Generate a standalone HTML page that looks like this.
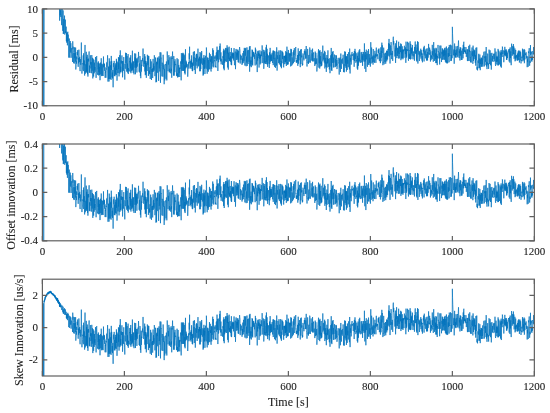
<!DOCTYPE html><html><head><meta charset="utf-8"><style>html,body{margin:0;padding:0;background:#fff;}svg{display:block;}text{font-family:"Liberation Serif", "Times New Roman", serif;fill:#202020;stroke:#202020;stroke-width:0.08px;}</style></head><body>
<svg width="550" height="413" viewBox="0 0 550 413">
<rect width="550" height="413" fill="#fff"/>
<clipPath id="c0"><rect x="42.40" y="8.95" width="491.95" height="96.80"/></clipPath>
<polyline clip-path="url(#c0)" fill="none" stroke="#0072BD" stroke-width="0.70" stroke-linejoin="round" points="43.83,135.75 44.04,-21.05 44.24,-21.05 44.45,-21.05 44.65,-21.05 44.86,-21.05 45.06,-21.05 45.27,-21.05 45.47,-21.05 45.68,-21.05 45.88,-21.05 46.09,-21.05 46.29,-21.05 46.50,-21.05 46.70,-21.05 46.91,-21.05 47.11,-21.05 47.32,-21.05 47.52,-21.05 47.73,-21.05 47.93,-21.05 48.14,-21.05 48.34,-21.05 48.55,-21.05 48.75,-21.05 48.96,-21.05 49.16,-21.05 49.37,-21.05 49.57,-21.05 49.78,-21.05 49.98,-21.05 50.19,-21.05 50.39,-21.05 50.60,-21.05 50.80,-21.05 51.01,-21.05 51.21,-21.05 51.42,-21.05 51.62,-21.05 51.83,-21.05 52.03,-21.05 52.24,-21.05 52.44,-21.05 52.65,-21.05 52.85,-21.05 53.06,-21.05 53.26,-21.05 53.47,-21.05 53.67,-21.05 53.88,-21.05 54.08,-21.05 54.29,-21.05 54.49,-21.05 54.70,-21.05 54.90,-21.05 55.11,-21.05 55.31,-21.05 55.52,-21.05 55.72,-21.05 55.93,-21.05 56.13,-21.05 56.34,-16.05 56.54,-19.41 56.75,-9.00 56.95,-21.05 57.16,-21.05 57.36,-20.21 57.57,-21.05 57.77,-0.40 57.98,-2.09 58.18,-14.52 58.39,1.34 58.59,-3.84 58.80,4.55 59.00,2.98 59.21,-3.95 59.41,-2.85 59.62,20.63 59.82,8.84 60.03,1.08 60.23,15.24 60.44,10.31 60.64,12.40 60.85,17.02 61.05,2.35 61.26,13.11 61.46,21.09 61.67,25.17 61.87,14.94 62.08,5.92 62.28,6.59 62.49,28.30 62.69,29.95 62.90,30.95 63.10,10.44 63.31,33.97 63.51,28.28 63.72,18.93 63.92,33.47 64.13,26.47 64.33,24.68 64.54,15.60 64.74,34.57 64.95,31.69 65.15,30.53 65.36,19.62 65.56,33.14 65.77,31.23 65.97,32.15 66.18,26.67 66.38,41.19 66.59,32.35 66.79,42.66 67.00,33.52 67.20,32.72 67.41,45.30 67.61,33.13 67.82,31.74 68.02,41.38 68.23,34.65 68.43,41.33 68.64,57.56 68.84,57.07 69.05,49.54 69.25,38.52 69.46,44.11 69.66,57.63 69.87,53.00 70.07,44.31 70.28,41.04 70.48,51.49 70.69,52.56 70.89,43.23 71.10,57.82 71.30,54.28 71.51,48.18 71.71,48.18 71.92,50.55 72.12,53.05 72.33,53.49 72.53,61.97 72.74,41.31 72.94,49.27 73.15,46.71 73.35,48.24 73.56,52.77 73.76,63.04 73.97,53.01 74.17,63.68 74.38,52.47 74.58,47.30 74.79,58.29 74.99,54.25 75.20,53.09 75.40,61.57 75.61,47.55 75.81,69.49 76.02,66.13 76.22,60.61 76.43,63.69 76.63,56.58 76.84,59.45 77.04,51.96 77.25,52.14 77.45,55.10 77.66,50.17 77.86,56.53 78.07,66.82 78.27,66.68 78.48,58.17 78.68,63.35 78.89,49.67 79.09,59.16 79.30,58.20 79.50,61.93 79.71,56.88 79.91,69.28 80.12,71.12 80.32,59.09 80.53,60.57 80.73,64.77 80.94,62.89 81.14,58.45 81.35,42.50 81.55,62.43 81.76,71.66 81.96,73.60 82.17,70.85 82.37,70.09 82.58,66.97 82.78,63.23 82.99,64.27 83.19,55.38 83.40,71.10 83.60,53.31 83.81,61.90 84.01,65.29 84.22,60.44 84.42,62.67 84.63,75.57 84.83,54.18 85.04,44.95 85.24,73.74 85.45,71.08 85.65,71.34 85.86,64.24 86.06,72.49 86.27,51.78 86.47,71.46 86.68,56.94 86.88,68.74 87.09,72.74 87.29,54.84 87.50,74.25 87.70,58.93 87.91,76.57 88.11,72.31 88.32,62.11 88.52,58.66 88.73,61.43 88.93,55.23 89.14,51.46 89.34,72.59 89.55,65.58 89.75,67.65 89.96,72.91 90.16,66.35 90.37,55.26 90.57,64.43 90.78,61.98 90.98,68.43 91.19,62.20 91.39,73.24 91.59,67.80 91.80,55.06 92.00,64.49 92.21,70.66 92.41,57.84 92.62,60.51 92.82,78.41 93.03,60.43 93.23,58.72 93.44,71.18 93.64,76.54 93.85,59.84 94.05,66.79 94.26,73.28 94.46,62.67 94.67,70.22 94.87,66.94 95.08,71.80 95.28,63.84 95.49,56.97 95.69,59.89 95.90,66.57 96.10,77.87 96.31,67.57 96.51,57.51 96.72,56.14 96.92,64.16 97.13,72.94 97.33,73.11 97.54,74.75 97.74,68.07 97.95,62.59 98.15,69.29 98.36,61.42 98.56,75.37 98.77,63.55 98.97,71.96 99.18,69.88 99.38,66.91 99.59,74.98 99.79,63.50 100.00,80.21 100.20,71.78 100.41,62.59 100.61,69.44 100.82,74.40 101.02,67.40 101.23,58.26 101.43,63.41 101.64,76.08 101.84,63.62 102.05,71.10 102.25,75.33 102.46,75.65 102.66,64.45 102.87,69.25 103.07,76.01 103.28,69.93 103.48,56.50 103.69,67.33 103.89,63.33 104.10,64.35 104.30,66.87 104.51,63.87 104.71,70.82 104.92,67.09 105.12,77.73 105.33,71.90 105.53,72.59 105.74,70.35 105.94,77.76 106.15,68.34 106.35,69.69 106.56,66.82 106.76,62.35 106.97,67.12 107.17,62.88 107.38,60.53 107.58,55.31 107.79,68.01 107.99,81.59 108.20,66.99 108.40,72.86 108.61,79.02 108.81,66.50 109.02,81.48 109.22,58.33 109.43,63.23 109.63,78.27 109.84,79.02 110.04,61.40 110.25,78.81 110.45,66.52 110.66,67.07 110.86,65.11 111.07,79.90 111.27,55.93 111.48,70.00 111.68,60.91 111.89,66.63 112.09,77.18 112.30,72.56 112.50,78.45 112.71,71.96 112.91,70.01 113.12,87.27 113.32,64.15 113.53,63.13 113.73,65.89 113.94,67.12 114.14,60.92 114.35,76.04 114.55,67.40 114.76,69.47 114.96,76.22 115.17,65.74 115.37,63.36 115.58,74.49 115.78,65.22 115.99,71.98 116.19,74.94 116.40,58.83 116.60,70.04 116.81,60.88 117.01,80.67 117.22,73.22 117.42,73.11 117.63,67.62 117.83,62.21 118.04,73.09 118.24,72.07 118.45,57.12 118.65,69.05 118.86,63.36 119.06,76.36 119.27,57.90 119.47,60.57 119.68,55.09 119.88,73.47 120.09,68.48 120.29,50.36 120.50,72.13 120.70,66.73 120.91,71.45 121.11,60.61 121.32,62.39 121.52,63.38 121.73,59.72 121.93,55.45 122.14,72.42 122.34,61.07 122.55,77.30 122.75,73.21 122.96,61.03 123.16,65.27 123.37,70.75 123.57,67.40 123.78,57.10 123.98,65.08 124.19,70.35 124.39,70.14 124.60,74.12 124.80,79.61 125.01,63.86 125.21,68.70 125.42,68.72 125.62,52.74 125.83,63.18 126.03,59.58 126.24,57.26 126.44,53.03 126.65,71.60 126.85,70.60 127.06,56.10 127.26,70.63 127.47,63.68 127.67,72.65 127.88,64.40 128.08,54.05 128.29,74.04 128.49,68.28 128.70,69.56 128.90,69.61 129.11,70.94 129.31,66.05 129.52,61.18 129.72,61.65 129.93,57.68 130.13,71.87 130.34,57.65 130.54,68.35 130.75,55.20 130.95,73.20 131.16,63.12 131.36,62.64 131.57,70.00 131.77,71.19 131.98,64.08 132.18,70.45 132.39,50.69 132.59,69.61 132.80,62.39 133.00,61.20 133.21,72.92 133.41,69.79 133.62,61.63 133.82,68.23 134.03,74.36 134.23,68.34 134.44,63.32 134.64,53.40 134.85,56.19 135.05,67.57 135.26,57.30 135.46,74.24 135.67,53.61 135.87,65.11 136.08,60.58 136.28,67.90 136.49,58.47 136.69,67.36 136.90,72.49 137.10,61.44 137.31,66.59 137.51,59.32 137.72,58.32 137.92,62.49 138.13,57.35 138.33,58.24 138.54,51.91 138.74,58.22 138.95,62.04 139.15,71.74 139.36,63.57 139.56,63.46 139.77,72.49 139.97,56.06 140.18,59.18 140.38,75.80 140.59,71.99 140.79,78.18 140.99,70.39 141.20,59.98 141.40,71.64 141.61,64.86 141.81,66.06 142.02,63.53 142.22,60.65 142.43,59.19 142.63,58.12 142.84,61.22 143.04,48.55 143.25,64.13 143.45,65.65 143.66,66.68 143.86,62.18 144.07,60.68 144.27,63.94 144.48,59.03 144.68,54.05 144.89,71.44 145.09,56.41 145.30,75.17 145.50,60.97 145.71,74.44 145.91,71.07 146.12,63.07 146.32,77.83 146.53,65.47 146.73,66.08 146.94,61.34 147.14,71.01 147.35,54.77 147.55,59.65 147.76,58.22 147.96,64.86 148.17,55.71 148.37,75.93 148.58,73.50 148.78,56.05 148.99,64.51 149.19,74.21 149.40,70.65 149.60,72.74 149.81,73.65 150.01,67.12 150.22,78.97 150.42,72.73 150.63,59.21 150.83,65.43 151.04,68.42 151.24,61.44 151.45,80.01 151.65,68.76 151.86,69.72 152.06,71.95 152.27,71.82 152.47,68.45 152.68,78.05 152.88,64.19 153.09,58.90 153.29,71.75 153.50,63.57 153.70,69.46 153.91,66.10 154.11,70.71 154.32,55.28 154.52,58.58 154.73,58.88 154.93,76.16 155.14,71.78 155.34,62.31 155.55,57.50 155.75,62.64 155.96,82.31 156.16,76.04 156.37,62.09 156.57,81.89 156.78,63.97 156.98,61.54 157.19,64.35 157.39,57.78 157.60,72.35 157.80,72.80 158.01,57.50 158.21,67.43 158.42,74.94 158.62,80.86 158.83,72.30 159.03,56.31 159.24,68.41 159.44,65.06 159.65,58.82 159.85,71.49 160.06,52.27 160.26,59.48 160.47,82.79 160.67,73.80 160.88,52.44 161.08,58.33 161.29,57.83 161.49,64.26 161.70,66.16 161.90,76.33 162.11,66.12 162.31,62.65 162.52,67.75 162.72,69.17 162.93,76.71 163.13,54.77 163.34,62.24 163.54,65.40 163.75,69.26 163.95,64.63 164.16,84.22 164.36,68.90 164.57,73.96 164.77,80.41 164.98,66.66 165.18,64.39 165.39,64.63 165.59,64.04 165.80,64.06 166.00,78.79 166.21,64.91 166.41,61.51 166.62,66.23 166.82,80.41 167.03,66.81 167.23,51.45 167.44,57.44 167.64,58.61 167.85,67.29 168.05,71.17 168.26,60.13 168.46,64.55 168.67,60.21 168.87,55.13 169.08,68.78 169.28,72.42 169.49,68.73 169.69,71.75 169.90,57.28 170.10,66.36 170.31,69.03 170.51,71.75 170.72,73.28 170.92,67.84 171.13,56.25 171.33,71.29 171.54,68.79 171.74,77.76 171.95,57.82 172.15,58.98 172.36,56.80 172.56,51.56 172.77,59.01 172.97,65.29 173.18,68.14 173.38,71.52 173.59,75.52 173.79,56.08 174.00,63.24 174.20,75.64 174.41,71.74 174.61,61.38 174.82,72.12 175.02,59.23 175.23,65.11 175.43,64.50 175.64,64.19 175.84,64.10 176.05,67.00 176.25,67.93 176.46,75.86 176.66,71.84 176.87,68.01 177.07,58.24 177.28,76.40 177.48,73.40 177.69,77.54 177.89,64.77 178.10,59.32 178.30,70.78 178.51,76.86 178.71,64.92 178.92,70.77 179.12,73.16 179.33,73.12 179.53,67.90 179.74,77.00 179.94,67.51 180.15,68.81 180.35,64.38 180.56,61.40 180.76,61.58 180.97,68.34 181.17,80.34 181.38,53.12 181.58,64.07 181.79,70.78 181.99,59.49 182.20,63.83 182.40,60.24 182.61,53.44 182.81,70.75 183.02,52.82 183.22,70.91 183.43,58.71 183.63,58.75 183.84,53.76 184.04,70.68 184.25,55.22 184.45,58.97 184.66,73.07 184.86,65.25 185.07,74.42 185.27,68.51 185.48,49.27 185.68,68.52 185.89,64.78 186.09,60.69 186.30,67.39 186.50,62.39 186.71,64.42 186.91,67.04 187.12,65.24 187.32,64.25 187.53,66.35 187.73,76.69 187.94,71.65 188.14,66.98 188.35,66.43 188.55,62.08 188.76,62.25 188.96,68.60 189.17,53.32 189.37,58.93 189.58,46.69 189.78,63.27 189.99,61.38 190.19,63.16 190.39,67.56 190.60,67.73 190.80,60.86 191.01,68.89 191.21,59.43 191.42,64.09 191.62,55.39 191.83,66.97 192.03,63.51 192.24,70.83 192.44,62.59 192.65,71.18 192.85,64.97 193.06,64.11 193.26,52.37 193.47,51.76 193.67,65.76 193.88,60.62 194.08,56.84 194.29,70.07 194.49,51.29 194.70,54.85 194.90,54.63 195.11,54.96 195.31,73.92 195.52,61.47 195.72,57.92 195.93,61.74 196.13,65.63 196.34,60.61 196.54,53.83 196.75,61.68 196.95,54.15 197.16,68.40 197.36,59.60 197.57,56.15 197.77,56.46 197.98,48.67 198.18,66.47 198.39,62.01 198.59,58.56 198.80,65.74 199.00,61.77 199.21,56.81 199.41,60.42 199.62,56.91 199.82,71.24 200.03,51.99 200.23,71.17 200.44,58.62 200.64,64.36 200.85,69.09 201.05,53.10 201.26,63.57 201.46,62.85 201.67,51.04 201.87,58.38 202.08,63.38 202.28,64.88 202.49,64.60 202.69,62.09 202.90,57.85 203.10,75.60 203.31,58.95 203.51,74.47 203.72,66.57 203.92,55.08 204.13,63.83 204.33,57.59 204.54,68.83 204.74,60.08 204.95,74.07 205.15,66.96 205.36,67.16 205.56,55.75 205.77,59.22 205.97,65.17 206.18,68.69 206.38,47.50 206.59,51.59 206.79,67.55 207.00,70.23 207.20,73.72 207.41,63.58 207.61,57.46 207.82,70.40 208.02,57.98 208.23,71.79 208.43,64.72 208.64,60.09 208.84,66.50 209.05,69.44 209.25,58.27 209.46,52.81 209.66,61.26 209.87,69.07 210.07,61.44 210.28,54.24 210.48,61.75 210.69,59.46 210.89,69.94 211.10,71.52 211.30,56.19 211.51,62.30 211.71,68.71 211.92,56.52 212.12,63.36 212.33,55.01 212.53,52.52 212.74,48.34 212.94,66.60 213.15,59.32 213.35,50.25 213.56,56.80 213.76,67.41 213.97,63.45 214.17,61.09 214.38,60.39 214.58,61.25 214.79,56.57 214.99,58.74 215.20,55.45 215.40,66.95 215.61,65.84 215.81,66.04 216.02,67.60 216.22,53.21 216.43,52.30 216.63,60.76 216.84,52.72 217.04,46.64 217.25,57.52 217.45,59.35 217.66,50.23 217.86,70.96 218.07,59.73 218.27,49.90 218.48,62.27 218.68,62.05 218.89,57.71 219.09,56.08 219.30,51.26 219.50,51.63 219.71,46.10 219.91,59.50 220.12,43.52 220.32,52.89 220.53,61.34 220.73,58.13 220.94,52.37 221.14,64.32 221.35,61.25 221.55,59.52 221.76,58.71 221.96,61.60 222.17,61.39 222.37,61.83 222.58,64.85 222.78,57.85 222.99,56.15 223.19,58.05 223.40,50.76 223.60,68.54 223.81,48.81 224.01,60.40 224.22,70.24 224.42,50.40 224.63,62.86 224.83,58.87 225.04,60.78 225.24,55.83 225.45,53.18 225.65,48.19 225.86,61.54 226.06,47.88 226.27,48.49 226.47,60.41 226.68,61.75 226.88,59.48 227.09,45.29 227.29,53.56 227.50,49.25 227.70,67.47 227.91,47.43 228.11,63.03 228.32,69.59 228.52,52.85 228.73,52.66 228.93,59.10 229.14,46.69 229.34,57.37 229.55,60.88 229.75,57.60 229.96,60.48 230.16,52.01 230.37,61.75 230.57,56.26 230.78,59.42 230.98,62.80 231.19,64.81 231.39,47.96 231.60,65.19 231.80,60.14 232.01,53.80 232.21,54.82 232.42,58.31 232.62,52.54 232.83,56.22 233.03,53.44 233.24,58.66 233.44,52.91 233.65,60.45 233.85,55.70 234.06,48.13 234.26,59.46 234.47,65.17 234.67,63.92 234.88,53.50 235.08,52.82 235.29,51.63 235.49,69.15 235.70,60.81 235.90,50.01 236.11,48.94 236.31,57.34 236.52,59.89 236.72,52.50 236.93,57.54 237.13,49.72 237.34,55.19 237.54,52.68 237.75,59.65 237.95,49.67 238.16,62.24 238.36,50.97 238.57,60.81 238.77,62.59 238.98,60.88 239.18,58.95 239.38,50.58 239.59,47.05 239.79,48.89 240.00,50.10 240.20,63.56 240.41,60.26 240.61,54.61 240.82,57.86 241.02,59.77 241.23,58.34 241.43,55.94 241.64,55.75 241.84,63.86 242.05,64.90 242.25,63.11 242.46,58.47 242.66,63.50 242.87,53.23 243.07,61.22 243.28,62.78 243.48,50.93 243.69,52.58 243.89,61.15 244.10,57.98 244.30,47.86 244.51,58.91 244.71,60.16 244.92,65.59 245.12,48.65 245.33,55.74 245.53,51.20 245.74,47.88 245.94,65.56 246.15,66.24 246.35,56.57 246.56,56.79 246.76,62.45 246.97,47.36 247.17,66.01 247.38,51.93 247.58,50.41 247.79,60.26 247.99,63.12 248.20,64.09 248.40,50.35 248.61,49.92 248.81,60.29 249.02,61.87 249.22,52.95 249.43,46.63 249.63,71.69 249.84,54.54 250.04,46.02 250.25,66.36 250.45,63.83 250.66,60.39 250.86,64.18 251.07,56.71 251.27,67.18 251.48,66.87 251.68,60.81 251.89,61.48 252.09,49.57 252.30,64.63 252.50,50.21 252.71,65.47 252.91,54.63 253.12,51.77 253.32,56.83 253.53,53.16 253.73,52.06 253.94,55.50 254.14,53.39 254.35,57.64 254.55,58.77 254.76,54.86 254.96,61.53 255.17,65.45 255.37,47.68 255.58,54.10 255.78,49.51 255.99,53.01 256.19,53.14 256.40,64.49 256.60,61.01 256.81,53.92 257.01,54.98 257.22,72.07 257.42,56.65 257.63,60.56 257.83,51.25 258.04,58.16 258.24,50.64 258.45,56.02 258.65,52.88 258.86,54.40 259.06,67.56 259.27,53.78 259.47,54.84 259.68,58.89 259.88,50.35 260.09,64.44 260.29,54.80 260.50,57.87 260.70,54.66 260.91,63.30 261.11,54.70 261.32,51.34 261.52,56.13 261.73,54.65 261.93,50.61 262.14,45.38 262.34,48.12 262.55,57.16 262.75,63.10 262.96,55.31 263.16,54.57 263.37,49.82 263.57,57.39 263.78,68.84 263.98,65.03 264.19,52.02 264.39,63.14 264.60,63.40 264.80,50.41 265.01,61.90 265.21,61.23 265.42,63.84 265.62,55.75 265.83,55.60 266.03,47.32 266.24,63.94 266.44,44.85 266.65,60.74 266.85,61.90 267.06,48.82 267.26,64.60 267.47,53.79 267.67,66.84 267.88,62.84 268.08,63.44 268.29,63.28 268.49,55.47 268.70,58.64 268.90,60.65 269.11,61.50 269.31,67.92 269.52,52.35 269.72,64.02 269.93,62.68 270.13,47.87 270.34,61.67 270.54,54.47 270.75,59.47 270.95,56.55 271.16,61.01 271.36,59.10 271.57,54.66 271.77,61.12 271.98,53.63 272.18,52.79 272.39,60.82 272.59,63.01 272.80,61.88 273.00,50.59 273.21,65.15 273.41,61.61 273.62,50.66 273.82,59.21 274.03,56.91 274.23,54.95 274.44,51.21 274.64,66.87 274.85,58.08 275.05,57.72 275.26,65.28 275.46,67.82 275.67,54.82 275.87,53.29 276.08,51.42 276.28,63.79 276.49,65.52 276.69,47.33 276.90,56.57 277.10,70.62 277.31,55.27 277.51,57.31 277.72,59.12 277.92,51.84 278.13,54.56 278.33,56.80 278.54,61.93 278.74,63.10 278.95,50.43 279.15,54.27 279.36,64.51 279.56,56.41 279.77,54.85 279.97,62.44 280.18,57.56 280.38,50.33 280.59,65.82 280.79,63.22 281.00,67.07 281.20,60.88 281.41,68.22 281.61,66.74 281.82,50.76 282.02,63.25 282.23,52.88 282.43,51.76 282.64,59.11 282.84,52.43 283.05,53.46 283.25,58.08 283.46,59.14 283.66,67.39 283.87,56.06 284.07,60.35 284.28,64.15 284.48,55.98 284.69,57.86 284.89,55.98 285.10,61.96 285.30,54.96 285.51,61.81 285.71,51.15 285.92,63.64 286.12,56.40 286.33,65.97 286.53,52.22 286.74,60.61 286.94,46.68 287.15,53.51 287.35,64.52 287.56,62.19 287.76,64.59 287.97,52.60 288.17,64.25 288.38,49.96 288.58,51.98 288.78,56.41 288.99,60.11 289.19,61.67 289.40,57.77 289.60,53.53 289.81,61.35 290.01,53.10 290.22,55.06 290.42,53.80 290.63,66.41 290.83,48.83 291.04,56.16 291.24,55.76 291.45,49.35 291.65,65.71 291.86,64.03 292.06,57.39 292.27,58.43 292.47,64.42 292.68,63.88 292.88,54.97 293.09,52.22 293.29,58.79 293.50,63.14 293.70,50.37 293.91,55.32 294.11,52.58 294.32,48.16 294.52,55.12 294.73,61.82 294.93,56.67 295.14,56.36 295.34,54.98 295.55,48.71 295.75,46.99 295.96,58.71 296.16,58.25 296.37,62.75 296.57,59.96 296.78,62.01 296.98,62.62 297.19,60.20 297.39,61.53 297.60,55.06 297.80,65.83 298.01,58.89 298.21,48.37 298.42,63.76 298.62,53.54 298.83,59.78 299.03,60.19 299.24,53.17 299.44,51.15 299.65,55.55 299.85,54.67 300.06,61.42 300.26,67.15 300.47,51.96 300.67,49.66 300.88,64.02 301.08,55.53 301.29,49.07 301.49,57.30 301.70,57.21 301.90,55.49 302.11,58.75 302.31,65.63 302.52,63.67 302.72,64.92 302.93,53.50 303.13,54.17 303.34,55.52 303.54,58.43 303.75,58.11 303.95,60.38 304.16,53.58 304.36,51.09 304.57,53.71 304.77,54.53 304.98,49.26 305.18,58.58 305.39,57.86 305.59,57.88 305.80,51.35 306.00,58.47 306.21,46.00 306.41,59.69 306.62,61.22 306.82,63.31 307.03,66.53 307.23,61.55 307.44,56.14 307.64,48.93 307.85,53.85 308.05,62.97 308.26,61.25 308.46,63.97 308.67,57.04 308.87,54.97 309.08,62.08 309.28,62.46 309.49,56.52 309.69,47.46 309.90,48.11 310.10,58.63 310.31,62.65 310.51,60.07 310.72,55.93 310.92,53.40 311.13,49.80 311.33,52.61 311.54,54.40 311.74,60.57 311.95,56.64 312.15,53.67 312.36,60.88 312.56,48.63 312.77,57.80 312.97,61.68 313.18,54.56 313.38,53.98 313.59,52.43 313.79,60.29 314.00,61.03 314.20,58.18 314.41,60.76 314.61,60.97 314.82,66.03 315.02,62.36 315.23,51.59 315.43,64.37 315.64,59.85 315.84,52.87 316.05,55.28 316.25,60.96 316.46,63.75 316.66,58.50 316.87,71.50 317.07,67.98 317.28,66.98 317.48,65.77 317.69,57.37 317.89,54.55 318.10,52.48 318.30,52.41 318.51,49.19 318.71,64.27 318.92,67.66 319.12,51.43 319.33,63.02 319.53,51.07 319.74,68.54 319.94,50.11 320.15,61.36 320.35,63.87 320.56,56.14 320.76,66.40 320.97,66.41 321.17,51.88 321.38,65.66 321.58,61.64 321.79,65.54 321.99,62.46 322.20,61.97 322.40,61.51 322.61,53.19 322.81,45.62 323.02,60.56 323.22,60.09 323.43,57.83 323.63,53.44 323.84,59.05 324.04,57.81 324.25,62.49 324.45,54.15 324.66,50.85 324.86,68.44 325.07,52.12 325.27,63.64 325.48,59.99 325.68,57.84 325.89,66.89 326.09,61.87 326.30,71.89 326.50,60.25 326.71,59.07 326.91,55.00 327.12,67.53 327.32,57.96 327.53,63.22 327.73,58.62 327.94,50.34 328.14,63.68 328.35,58.89 328.55,60.07 328.76,66.90 328.96,63.67 329.17,65.89 329.37,69.49 329.58,60.06 329.78,58.22 329.99,73.19 330.19,63.37 330.40,60.33 330.60,60.00 330.81,55.32 331.01,66.56 331.22,47.94 331.42,69.91 331.63,54.17 331.83,71.00 332.04,63.61 332.24,59.43 332.45,52.04 332.65,60.88 332.86,62.96 333.06,51.07 333.27,61.86 333.47,67.48 333.68,57.61 333.88,62.62 334.09,59.15 334.29,58.00 334.50,54.57 334.70,57.82 334.91,67.27 335.11,65.49 335.32,63.11 335.52,58.93 335.73,66.73 335.93,55.12 336.14,58.99 336.34,55.60 336.55,65.83 336.75,59.74 336.96,69.08 337.16,67.69 337.37,65.29 337.57,63.91 337.77,61.83 337.98,59.70 338.18,57.83 338.39,61.83 338.59,63.53 338.80,64.07 339.00,64.42 339.21,74.57 339.41,58.49 339.62,61.96 339.82,67.51 340.03,57.58 340.23,67.90 340.44,71.93 340.64,56.46 340.85,53.52 341.05,59.43 341.26,65.37 341.46,68.88 341.67,59.45 341.87,63.10 342.08,62.41 342.28,58.82 342.49,58.80 342.69,58.45 342.90,64.12 343.10,54.72 343.31,59.69 343.51,72.06 343.72,67.04 343.92,64.01 344.13,67.99 344.33,72.29 344.54,53.68 344.74,51.38 344.95,56.14 345.15,66.26 345.36,51.87 345.56,63.35 345.77,56.34 345.97,67.90 346.18,56.19 346.38,71.65 346.59,65.23 346.79,56.59 347.00,65.05 347.20,69.97 347.41,53.97 347.61,63.68 347.82,59.86 348.02,61.73 348.23,67.20 348.43,64.87 348.64,52.15 348.84,56.23 349.05,63.25 349.25,67.35 349.46,69.44 349.66,48.58 349.87,61.95 350.07,73.47 350.28,60.26 350.48,57.96 350.69,61.60 350.89,54.65 351.10,64.65 351.30,64.20 351.51,53.83 351.71,53.26 351.92,52.59 352.12,51.92 352.33,55.75 352.53,54.48 352.74,54.53 352.94,55.88 353.15,59.81 353.35,60.18 353.56,53.43 353.76,54.23 353.97,55.41 354.17,66.79 354.38,50.97 354.58,61.03 354.79,59.03 354.99,48.86 355.20,55.96 355.40,59.13 355.61,51.74 355.81,62.73 356.02,61.24 356.22,60.01 356.43,61.30 356.63,60.62 356.84,53.27 357.04,58.44 357.25,68.54 357.45,55.88 357.66,69.71 357.86,67.06 358.07,52.32 358.27,53.28 358.48,65.73 358.68,58.21 358.89,62.62 359.09,50.44 359.30,61.48 359.50,60.02 359.71,49.24 359.91,58.31 360.12,60.59 360.32,60.26 360.53,61.99 360.73,62.88 360.94,56.91 361.14,52.22 361.35,60.80 361.55,61.08 361.76,62.33 361.96,51.92 362.17,59.56 362.37,55.76 362.58,65.86 362.78,54.12 362.99,57.47 363.19,60.29 363.40,55.97 363.60,51.96 363.81,56.75 364.01,61.67 364.22,55.30 364.42,43.40 364.63,57.86 364.83,68.79 365.04,54.44 365.24,61.41 365.45,54.55 365.65,51.92 365.86,71.93 366.06,58.14 366.27,49.61 366.47,58.90 366.68,59.42 366.88,54.53 367.09,53.62 367.29,65.17 367.50,66.76 367.70,53.62 367.91,50.80 368.11,64.57 368.32,53.78 368.52,49.10 368.73,52.22 368.93,64.98 369.14,63.00 369.34,54.09 369.55,62.05 369.75,62.83 369.96,57.82 370.16,62.19 370.37,66.60 370.57,60.94 370.78,42.20 370.98,59.23 371.19,63.45 371.39,56.59 371.60,47.54 371.80,58.29 372.01,59.12 372.21,57.10 372.42,60.22 372.62,62.59 372.83,55.67 373.03,64.63 373.24,49.06 373.44,57.20 373.65,60.12 373.85,61.91 374.06,55.53 374.26,58.90 374.47,62.80 374.67,59.75 374.88,50.85 375.08,57.88 375.29,53.76 375.49,56.12 375.70,55.70 375.90,62.86 376.11,52.97 376.31,47.61 376.52,54.63 376.72,56.56 376.93,54.43 377.13,55.75 377.34,54.34 377.54,55.50 377.75,56.73 377.95,59.28 378.16,49.74 378.36,52.68 378.57,49.42 378.77,53.22 378.98,48.48 379.18,52.66 379.39,61.12 379.59,59.11 379.80,53.02 380.00,58.04 380.21,58.53 380.41,63.13 380.62,54.24 380.82,47.33 381.03,61.25 381.23,50.83 381.44,57.72 381.64,57.24 381.85,42.66 382.05,53.04 382.26,45.29 382.46,57.68 382.67,58.84 382.87,65.18 383.08,62.18 383.28,62.59 383.49,55.78 383.69,47.65 383.90,55.02 384.10,64.34 384.31,62.21 384.51,59.66 384.72,53.48 384.92,56.43 385.13,62.09 385.33,55.42 385.54,52.72 385.74,63.75 385.95,56.29 386.15,59.70 386.36,59.02 386.56,50.68 386.77,61.33 386.97,54.80 387.17,51.90 387.38,51.00 387.58,59.53 387.79,50.98 387.99,49.08 388.20,55.68 388.40,51.32 388.61,43.27 388.81,49.78 389.02,38.93 389.22,56.53 389.43,43.81 389.63,44.90 389.84,53.73 390.04,63.51 390.25,47.96 390.45,45.44 390.66,55.19 390.86,51.19 391.07,42.05 391.27,45.87 391.48,47.26 391.68,59.11 391.89,52.90 392.09,55.00 392.30,50.95 392.50,57.75 392.71,60.90 392.91,57.27 393.12,38.69 393.32,36.73 393.53,44.45 393.73,41.09 393.94,45.34 394.14,46.00 394.35,49.08 394.55,49.84 394.76,56.26 394.96,56.52 395.17,51.00 395.37,43.31 395.58,62.92 395.78,48.18 395.99,55.77 396.19,45.87 396.40,50.49 396.60,40.50 396.81,58.12 397.01,54.27 397.22,51.32 397.42,56.02 397.63,47.81 397.83,52.55 398.04,48.29 398.24,54.36 398.45,58.53 398.65,41.75 398.86,51.47 399.06,54.14 399.27,46.21 399.47,54.50 399.68,58.44 399.88,46.80 400.09,48.42 400.29,46.63 400.50,52.11 400.70,43.48 400.91,60.19 401.11,58.04 401.32,44.22 401.52,58.49 401.73,50.34 401.93,53.54 402.14,47.07 402.34,46.36 402.55,58.20 402.75,49.59 402.96,59.29 403.16,49.56 403.37,51.36 403.57,50.21 403.78,49.70 403.98,57.80 404.19,49.62 404.39,45.78 404.60,50.47 404.80,49.23 405.01,49.52 405.21,51.67 405.42,54.09 405.62,47.36 405.83,62.82 406.03,41.68 406.24,57.77 406.44,49.01 406.65,56.58 406.85,51.66 407.06,45.69 407.26,45.03 407.47,41.78 407.67,51.00 407.88,49.24 408.08,53.19 408.29,59.36 408.49,60.75 408.70,42.67 408.90,51.31 409.11,58.14 409.31,53.74 409.52,59.03 409.72,50.35 409.93,51.00 410.13,41.33 410.34,55.33 410.54,59.40 410.75,43.91 410.95,59.09 411.16,51.54 411.36,48.38 411.57,53.48 411.77,47.54 411.98,53.55 412.18,55.60 412.39,44.97 412.59,51.06 412.80,54.94 413.00,59.31 413.21,51.27 413.41,52.59 413.62,52.20 413.82,56.38 414.03,53.91 414.23,56.98 414.44,60.73 414.64,47.03 414.85,53.58 415.05,43.84 415.26,41.50 415.46,50.06 415.67,53.67 415.87,48.19 416.08,44.55 416.28,55.12 416.49,60.48 416.69,50.56 416.90,61.51 417.10,47.50 417.31,51.07 417.51,41.31 417.72,49.11 417.92,63.57 418.13,41.90 418.33,45.77 418.54,49.99 418.74,52.76 418.95,54.62 419.15,50.88 419.36,61.04 419.56,60.20 419.77,51.70 419.97,56.55 420.18,54.84 420.38,53.20 420.59,52.89 420.79,48.70 421.00,58.61 421.20,50.14 421.41,54.86 421.61,52.71 421.82,58.18 422.02,60.62 422.23,55.69 422.43,62.32 422.64,53.67 422.84,54.52 423.05,53.19 423.25,49.75 423.46,51.38 423.66,47.36 423.87,55.33 424.07,61.48 424.28,45.85 424.48,51.68 424.69,54.49 424.89,55.50 425.10,50.92 425.30,57.48 425.51,58.29 425.71,50.28 425.92,50.58 426.12,48.85 426.33,57.88 426.53,60.55 426.74,54.26 426.94,60.14 427.15,48.31 427.35,53.94 427.56,60.50 427.76,52.02 427.97,57.77 428.17,57.37 428.38,56.08 428.58,43.92 428.79,52.13 428.99,54.22 429.20,53.36 429.40,54.69 429.61,47.64 429.81,51.13 430.02,49.74 430.22,55.02 430.43,61.54 430.63,60.18 430.84,51.29 431.04,60.14 431.25,55.24 431.45,57.45 431.66,56.38 431.86,55.97 432.07,58.99 432.27,44.86 432.48,55.21 432.68,51.20 432.89,58.17 433.09,57.82 433.30,61.73 433.50,47.87 433.71,42.11 433.91,56.58 434.12,48.26 434.32,55.89 434.53,60.86 434.73,49.51 434.94,53.49 435.14,57.87 435.35,59.12 435.55,53.28 435.76,63.08 435.96,47.80 436.16,57.62 436.37,48.57 436.57,63.07 436.78,55.36 436.98,54.45 437.19,65.11 437.39,55.96 437.60,57.07 437.80,58.35 438.01,44.94 438.21,51.56 438.42,50.97 438.62,53.69 438.83,56.24 439.03,58.42 439.24,52.53 439.44,55.93 439.65,64.49 439.85,45.61 440.06,50.35 440.26,58.39 440.47,53.59 440.67,52.06 440.88,45.57 441.08,50.95 441.29,55.09 441.49,62.04 441.70,57.94 441.90,51.80 442.11,54.21 442.31,48.30 442.52,59.77 442.72,49.65 442.93,48.94 443.13,55.79 443.34,56.42 443.54,50.31 443.75,59.57 443.95,52.95 444.16,50.27 444.36,59.81 444.57,48.36 444.77,55.32 444.98,55.38 445.18,47.67 445.39,61.69 445.59,52.84 445.80,50.32 446.00,62.81 446.21,57.97 446.41,46.52 446.62,62.38 446.82,60.69 447.03,63.48 447.23,48.42 447.44,61.11 447.64,63.15 447.85,62.90 448.05,57.70 448.26,53.03 448.46,56.80 448.67,47.23 448.87,54.90 449.08,62.27 449.28,44.94 449.49,48.83 449.69,56.04 449.90,53.88 450.10,54.09 450.31,51.87 450.51,44.74 450.72,50.32 450.92,61.07 451.13,54.99 451.33,60.70 451.54,55.80 451.74,45.43 451.95,47.00 452.15,58.19 452.36,26.85 452.56,33.68 452.77,39.11 452.97,43.16 453.18,49.77 453.38,53.99 453.59,55.33 453.79,50.36 454.00,49.36 454.20,63.75 454.41,53.58 454.61,43.52 454.82,55.68 455.02,49.86 455.23,51.83 455.43,57.15 455.64,52.91 455.84,57.79 456.05,46.26 456.25,55.11 456.46,51.85 456.66,51.12 456.87,49.33 457.07,57.37 457.28,47.28 457.48,46.17 457.69,47.02 457.89,56.62 458.10,47.89 458.30,44.42 458.51,40.54 458.71,47.20 458.92,55.60 459.12,57.95 459.33,51.02 459.53,53.05 459.74,49.25 459.94,60.53 460.15,47.23 460.35,55.61 460.56,54.73 460.76,47.64 460.97,56.35 461.17,57.88 461.38,59.96 461.58,50.72 461.79,51.33 461.99,59.95 462.20,54.55 462.40,48.59 462.61,48.83 462.81,50.37 463.02,58.34 463.22,44.82 463.43,53.98 463.63,43.12 463.84,41.75 464.04,49.67 464.25,46.95 464.45,51.89 464.66,49.64 464.86,52.18 465.07,50.17 465.27,53.78 465.48,51.25 465.68,52.50 465.89,47.04 466.09,48.95 466.30,56.90 466.50,54.32 466.71,52.93 466.91,53.55 467.12,49.40 467.32,60.27 467.53,61.09 467.73,49.35 467.94,55.46 468.14,60.90 468.35,50.53 468.55,50.56 468.76,45.89 468.96,51.80 469.17,61.05 469.37,50.03 469.58,51.76 469.78,44.71 469.99,56.01 470.19,57.97 470.40,57.49 470.60,62.30 470.81,51.16 471.01,50.84 471.22,62.55 471.42,55.68 471.63,52.73 471.83,51.62 472.04,47.49 472.24,56.26 472.45,56.08 472.65,51.26 472.86,63.80 473.06,45.62 473.27,49.94 473.47,60.94 473.68,58.12 473.88,49.44 474.09,59.10 474.29,51.06 474.50,56.37 474.70,50.11 474.91,51.66 475.11,53.45 475.32,62.85 475.52,55.22 475.73,65.64 475.93,47.78 476.14,60.16 476.34,58.79 476.55,58.16 476.75,47.41 476.96,69.58 477.16,66.90 477.37,68.49 477.57,70.38 477.78,63.23 477.98,60.46 478.19,61.79 478.39,63.13 478.60,54.21 478.80,53.79 479.01,68.24 479.21,58.59 479.42,68.09 479.62,64.48 479.83,54.52 480.03,60.41 480.24,70.18 480.44,59.31 480.65,64.07 480.85,61.51 481.06,57.60 481.26,66.73 481.47,57.86 481.67,61.90 481.88,66.67 482.08,58.50 482.29,63.88 482.49,64.31 482.70,55.56 482.90,66.62 483.11,60.67 483.31,59.03 483.52,55.28 483.72,52.43 483.93,51.73 484.13,53.48 484.34,66.41 484.54,61.00 484.75,56.34 484.95,58.05 485.15,51.41 485.36,57.60 485.56,61.73 485.77,56.29 485.97,65.22 486.18,47.03 486.38,55.62 486.59,66.47 486.79,61.90 487.00,69.10 487.20,62.67 487.41,63.81 487.61,53.61 487.82,53.97 488.02,65.17 488.23,63.50 488.43,63.55 488.64,68.90 488.84,62.68 489.05,49.62 489.25,53.80 489.46,58.17 489.66,64.01 489.87,57.98 490.07,50.30 490.28,61.78 490.48,65.27 490.69,54.69 490.89,53.27 491.10,55.19 491.30,69.58 491.51,60.31 491.71,57.42 491.92,52.85 492.12,59.02 492.33,61.21 492.53,56.01 492.74,59.58 492.94,61.08 493.15,61.88 493.35,55.15 493.56,55.19 493.76,53.90 493.97,59.06 494.17,53.47 494.38,56.12 494.58,59.95 494.79,61.44 494.99,48.36 495.20,57.02 495.40,64.65 495.61,65.95 495.81,58.32 496.02,51.64 496.22,53.86 496.43,61.79 496.63,56.84 496.84,64.52 497.04,55.88 497.25,61.59 497.45,57.15 497.66,59.13 497.86,65.40 498.07,48.91 498.27,54.19 498.48,65.25 498.68,50.52 498.89,51.91 499.09,53.92 499.30,58.40 499.50,64.48 499.71,58.64 499.91,54.65 500.12,51.57 500.32,55.25 500.53,66.43 500.73,53.12 500.94,55.09 501.14,49.97 501.35,67.63 501.55,51.70 501.76,52.51 501.96,53.64 502.17,56.99 502.37,46.59 502.58,47.99 502.78,54.07 502.99,52.60 503.19,50.25 503.40,54.67 503.60,57.94 503.81,62.23 504.01,59.02 504.22,51.01 504.42,51.08 504.63,55.10 504.83,46.83 505.04,56.29 505.24,50.31 505.45,49.72 505.65,55.07 505.86,52.60 506.06,56.09 506.27,49.40 506.47,59.80 506.68,50.80 506.88,59.79 507.09,54.80 507.29,52.61 507.50,58.02 507.70,54.57 507.91,53.66 508.11,51.54 508.32,50.77 508.52,49.41 508.73,52.16 508.93,51.53 509.14,61.47 509.34,58.61 509.55,48.85 509.75,56.67 509.96,62.67 510.16,47.39 510.37,55.44 510.57,58.05 510.78,51.37 510.98,59.95 511.19,65.19 511.39,53.23 511.60,43.68 511.80,47.57 512.01,49.76 512.21,55.81 512.42,51.60 512.62,46.26 512.83,47.84 513.03,54.51 513.24,46.40 513.44,44.07 513.65,54.07 513.85,46.49 514.06,58.75 514.26,58.00 514.47,53.46 514.67,53.79 514.88,48.44 515.08,61.29 515.29,56.19 515.49,58.42 515.70,49.94 515.90,60.53 516.11,55.50 516.31,56.05 516.52,56.58 516.72,54.91 516.93,58.30 517.13,56.40 517.34,60.14 517.54,53.49 517.75,60.79 517.95,52.40 518.16,51.40 518.36,53.21 518.57,59.94 518.77,50.44 518.98,56.77 519.18,51.39 519.39,62.55 519.59,60.54 519.80,57.09 520.00,50.72 520.21,60.25 520.41,56.63 520.62,52.12 520.82,55.88 521.03,63.43 521.23,59.96 521.44,60.59 521.64,60.91 521.85,56.70 522.05,58.12 522.26,54.23 522.46,48.69 522.67,51.99 522.87,61.30 523.08,50.12 523.28,57.05 523.49,54.76 523.69,60.24 523.90,49.96 524.10,48.98 524.31,63.21 524.51,62.70 524.72,49.90 524.92,59.42 525.13,53.43 525.33,53.74 525.54,55.05 525.74,52.84 525.95,52.34 526.15,52.22 526.36,52.72 526.56,58.38 526.77,55.91 526.97,58.25 527.18,67.19 527.38,59.22 527.59,62.13 527.79,56.50 528.00,56.83 528.20,66.73 528.41,51.44 528.61,52.85 528.82,52.97 529.02,50.12 529.23,48.14 529.43,54.45 529.64,65.75 529.84,61.27 530.05,60.74 530.25,62.82 530.46,45.13 530.66,55.05 530.87,51.32 531.07,53.87 531.28,51.79 531.48,60.70 531.69,57.58 531.89,61.70 532.10,56.60 532.30,57.09 532.51,59.89 532.71,51.10 532.92,51.99 533.12,52.49 533.33,54.07 533.53,47.06 533.74,50.23 533.94,54.57 534.15,53.04 534.35,55.47"/>
<line x1="43.75" y1="8.95" x2="43.75" y2="105.75" stroke="#0072BD" stroke-width="1.00"/>
<path d="M42.40 105.75V100.85M42.40 8.95V13.85M124.39 105.75V100.85M124.39 8.95V13.85M206.38 105.75V100.85M206.38 8.95V13.85M288.38 105.75V100.85M288.38 8.95V13.85M370.37 105.75V100.85M370.37 8.95V13.85M452.36 105.75V100.85M452.36 8.95V13.85M534.35 105.75V100.85M534.35 8.95V13.85M42.40 105.75H47.30M534.35 105.75H529.45M42.40 81.55H47.30M534.35 81.55H529.45M42.40 57.35H47.30M534.35 57.35H529.45M42.40 33.15H47.30M534.35 33.15H529.45M42.40 8.95H47.30M534.35 8.95H529.45" stroke="#606060" stroke-width="1.20" fill="none"/>
<rect x="42.40" y="8.95" width="491.95" height="96.80" fill="none" stroke="#606060" stroke-width="1.20"/>
<text x="42.40" y="120.05" font-size="11.0" text-anchor="middle">0</text>
<text x="124.39" y="120.05" font-size="11.0" text-anchor="middle">200</text>
<text x="206.38" y="120.05" font-size="11.0" text-anchor="middle">400</text>
<text x="288.38" y="120.05" font-size="11.0" text-anchor="middle">600</text>
<text x="370.37" y="120.05" font-size="11.0" text-anchor="middle">800</text>
<text x="452.36" y="120.05" font-size="11.0" text-anchor="middle">1000</text>
<text x="534.35" y="120.05" font-size="11.0" text-anchor="middle">1200</text>
<text x="38.10" y="109.35" font-size="11.0" text-anchor="end">-10</text>
<text x="38.10" y="85.15" font-size="11.0" text-anchor="end">-5</text>
<text x="38.10" y="60.95" font-size="11.0" text-anchor="end">0</text>
<text x="38.10" y="36.75" font-size="11.0" text-anchor="end">5</text>
<text x="38.10" y="12.55" font-size="11.0" text-anchor="end">10</text>
<text x="17.90" y="58.95" font-size="12.0" text-anchor="middle" transform="rotate(-90 17.90 58.95)">Residual [ms]</text>
<clipPath id="c1"><rect x="42.40" y="144.00" width="491.95" height="96.80"/></clipPath>
<polyline clip-path="url(#c1)" fill="none" stroke="#0072BD" stroke-width="0.70" stroke-linejoin="round" points="43.83,114.00 44.04,114.00 44.24,114.00 44.45,114.00 44.65,114.00 44.86,114.00 45.06,114.00 45.27,114.00 45.47,114.00 45.68,114.00 45.88,114.00 46.09,114.00 46.29,114.00 46.50,114.00 46.70,114.00 46.91,114.00 47.11,114.00 47.32,114.00 47.52,114.00 47.73,114.00 47.93,114.00 48.14,114.00 48.34,114.00 48.55,114.00 48.75,114.00 48.96,114.00 49.16,114.00 49.37,114.00 49.57,114.00 49.78,114.00 49.98,114.00 50.19,114.00 50.39,114.00 50.60,114.00 50.80,114.00 51.01,114.00 51.21,114.00 51.42,114.00 51.62,114.00 51.83,114.00 52.03,114.00 52.24,114.00 52.44,114.00 52.65,114.00 52.85,114.00 53.06,114.00 53.26,114.00 53.47,114.00 53.67,114.00 53.88,114.00 54.08,114.00 54.29,114.00 54.49,114.00 54.70,114.00 54.90,114.00 55.11,114.00 55.31,114.00 55.52,114.00 55.72,114.00 55.93,114.00 56.13,114.00 56.34,114.00 56.54,114.00 56.75,114.00 56.95,114.00 57.16,114.00 57.36,114.00 57.57,114.00 57.77,122.49 57.98,120.44 58.18,114.00 58.39,124.59 58.59,118.32 58.80,128.48 59.00,126.57 59.21,118.18 59.41,119.51 59.62,147.94 59.82,133.67 60.03,124.28 60.23,141.42 60.44,135.45 60.64,137.98 60.85,143.57 61.05,125.81 61.26,138.84 61.46,148.50 61.67,153.45 61.87,141.06 62.08,130.14 62.28,130.95 62.49,157.23 62.69,159.22 62.90,160.44 63.10,135.61 63.31,164.09 63.51,157.20 63.72,145.89 63.92,163.49 64.13,155.02 64.33,152.84 64.54,141.85 64.74,164.82 64.95,161.34 65.15,159.92 65.36,146.73 65.56,163.09 65.77,160.78 65.97,161.90 66.18,155.26 66.38,172.83 66.59,162.13 66.79,174.62 67.00,163.55 67.20,162.58 67.41,177.82 67.61,163.08 67.82,161.39 68.02,173.06 68.23,164.92 68.43,173.01 68.64,192.65 68.84,192.06 69.05,182.94 69.25,169.61 69.46,176.37 69.66,192.74 69.87,187.13 70.07,176.61 70.28,172.65 70.48,185.31 70.69,186.60 70.89,175.31 71.10,192.97 71.30,188.69 71.51,181.30 71.71,181.30 71.92,184.17 72.12,187.20 72.33,187.72 72.53,197.99 72.74,172.98 72.94,182.62 73.15,179.52 73.35,181.37 73.56,186.85 73.76,199.29 73.97,187.15 74.17,200.06 74.38,186.50 74.58,180.24 74.79,193.54 74.99,188.65 75.20,187.24 75.40,197.51 75.61,180.54 75.81,207.10 76.02,203.03 76.22,196.35 76.43,200.07 76.63,191.47 76.84,194.94 77.04,185.88 77.25,186.09 77.45,189.68 77.66,183.70 77.86,191.41 78.07,203.87 78.27,203.70 78.48,193.39 78.68,199.67 78.89,183.10 79.09,194.59 79.30,193.43 79.50,197.95 79.71,191.83 79.91,206.85 80.12,209.07 80.32,194.50 80.53,196.30 80.73,201.38 80.94,199.11 81.14,193.73 81.35,174.43 81.55,198.55 81.76,209.73 81.96,212.07 82.17,208.74 82.37,207.82 82.58,204.04 82.78,199.52 82.99,200.77 83.19,190.02 83.40,209.05 83.60,187.51 83.81,197.91 84.01,202.01 84.22,196.14 84.42,198.84 84.63,214.46 84.83,188.56 85.04,177.39 85.24,212.25 85.45,209.03 85.65,209.33 85.86,200.74 86.06,210.72 86.27,185.65 86.47,209.48 86.68,191.90 86.88,206.18 87.09,211.03 87.29,189.36 87.50,212.86 87.70,194.31 87.91,215.67 88.11,210.51 88.32,198.17 88.52,193.99 88.73,197.34 88.93,189.83 89.14,185.27 89.34,210.85 89.55,202.36 89.75,204.88 89.96,211.23 90.16,203.29 90.37,189.87 90.57,200.97 90.78,198.01 90.98,205.81 91.19,198.28 91.39,211.64 91.59,205.05 91.80,189.63 92.00,201.04 92.21,208.52 92.41,192.99 92.62,196.23 92.82,217.90 93.03,196.13 93.23,194.06 93.44,209.15 93.64,215.63 93.85,195.41 94.05,203.82 94.26,211.68 94.46,198.84 94.67,207.98 94.87,204.01 95.08,209.89 95.28,200.25 95.49,191.94 95.69,195.48 95.90,203.56 96.10,217.24 96.31,204.78 96.51,192.59 96.72,190.93 96.92,200.64 97.13,211.28 97.33,211.48 97.54,213.46 97.74,205.37 97.95,198.75 98.15,206.86 98.36,197.33 98.56,214.22 98.77,199.91 98.97,210.08 99.18,207.57 99.38,203.97 99.59,213.74 99.79,199.84 100.00,220.07 100.20,209.87 100.41,198.74 100.61,207.04 100.82,213.04 101.02,204.57 101.23,193.50 101.43,199.74 101.64,215.08 101.84,199.99 102.05,209.04 102.25,214.16 102.46,214.55 102.66,200.99 102.87,206.80 103.07,214.99 103.28,207.63 103.48,191.38 103.69,204.49 103.89,199.64 104.10,200.88 104.30,203.92 104.51,200.30 104.71,208.71 104.92,204.19 105.12,217.07 105.33,210.02 105.53,210.85 105.74,208.14 105.94,217.11 106.15,205.70 106.35,207.34 106.56,203.86 106.76,198.45 106.97,204.23 107.17,199.10 107.38,196.25 107.58,189.93 107.79,205.31 107.99,221.74 108.20,204.08 108.40,211.18 108.61,218.63 108.81,203.47 109.02,221.61 109.22,193.58 109.43,199.51 109.63,217.73 109.84,218.63 110.04,197.30 110.25,218.38 110.45,203.51 110.66,204.17 110.86,201.80 111.07,219.70 111.27,190.69 111.48,207.72 111.68,196.70 111.89,203.63 112.09,216.40 112.30,210.82 112.50,217.94 112.71,210.08 112.91,207.73 113.12,228.63 113.32,200.63 113.53,199.40 113.73,202.74 113.94,204.23 114.14,196.73 114.35,215.03 114.55,204.57 114.76,207.07 114.96,215.24 115.17,202.56 115.37,199.68 115.58,213.15 115.78,201.93 115.99,210.11 116.19,213.69 116.40,194.19 116.60,207.77 116.81,196.68 117.01,220.64 117.22,211.62 117.42,211.49 117.63,204.84 117.83,198.28 118.04,211.45 118.24,210.23 118.45,192.12 118.65,206.57 118.86,199.67 119.06,215.42 119.27,193.07 119.47,196.30 119.68,189.67 119.88,211.92 120.09,205.87 120.29,183.94 120.50,210.29 120.70,203.76 120.91,209.47 121.11,196.34 121.32,198.50 121.52,199.71 121.73,195.26 121.93,190.10 122.14,210.64 122.34,196.90 122.55,216.55 122.75,211.60 122.96,196.86 123.16,201.99 123.37,208.63 123.57,204.56 123.78,192.10 123.98,201.76 124.19,208.14 124.39,207.89 124.60,212.71 124.80,219.35 125.01,200.28 125.21,206.14 125.42,206.17 125.62,186.82 125.83,199.46 126.03,195.11 126.24,192.30 126.44,187.17 126.65,209.66 126.85,208.44 127.06,190.89 127.26,208.48 127.47,200.06 127.67,210.92 127.88,200.93 128.08,188.41 128.29,212.61 128.49,205.64 128.70,207.18 128.90,207.24 129.11,208.86 129.31,202.93 129.52,197.03 129.72,197.60 129.93,192.80 130.13,209.98 130.34,192.76 130.54,205.72 130.75,189.79 130.95,211.58 131.16,199.39 131.36,198.81 131.57,207.72 131.77,209.16 131.98,200.54 132.18,208.26 132.39,184.34 132.59,207.24 132.80,198.51 133.00,197.07 133.21,211.25 133.41,207.46 133.62,197.58 133.82,205.57 134.03,212.99 134.23,205.70 134.44,199.63 134.64,187.62 134.85,191.00 135.05,204.78 135.26,192.34 135.46,212.85 135.67,187.87 135.87,201.79 136.08,196.31 136.28,205.17 136.49,193.75 136.69,204.52 136.90,210.73 137.10,197.35 137.31,203.59 137.51,194.78 137.72,193.57 137.92,198.62 138.13,192.40 138.33,193.48 138.54,185.81 138.74,193.45 138.95,198.08 139.15,209.82 139.36,199.93 139.56,199.79 139.77,210.73 139.97,190.84 140.18,194.62 140.38,214.74 140.59,210.12 140.79,217.62 140.99,208.19 141.20,195.58 141.40,209.70 141.61,201.49 141.81,202.94 142.02,199.88 142.22,196.40 142.43,194.63 142.63,193.33 142.84,197.08 143.04,181.74 143.25,200.61 143.45,202.45 143.66,203.70 143.86,198.25 144.07,196.43 144.27,200.38 144.48,194.43 144.68,188.41 144.89,209.46 145.09,191.26 145.30,213.97 145.50,196.78 145.71,213.09 145.91,209.01 146.12,199.32 146.32,217.19 146.53,202.23 146.73,202.97 146.94,197.23 147.14,208.94 147.35,189.28 147.55,195.19 147.76,193.45 147.96,201.49 148.17,190.42 148.37,214.89 148.58,211.96 148.78,190.82 148.99,201.07 149.19,212.81 149.40,208.50 149.60,211.04 149.81,212.14 150.01,204.23 150.22,218.58 150.42,211.02 150.63,194.65 150.83,202.18 151.04,205.81 151.24,197.36 151.45,219.83 151.65,206.21 151.86,207.38 152.06,210.07 152.27,209.92 152.47,205.84 152.68,217.46 152.88,200.68 153.09,194.28 153.29,209.83 153.50,199.93 153.70,207.06 153.91,202.99 154.11,208.57 154.32,189.90 154.52,193.89 154.73,194.25 154.93,215.17 155.14,209.86 155.34,198.41 155.55,192.58 155.75,198.80 155.96,222.62 156.16,215.03 156.37,198.14 156.57,222.11 156.78,200.42 156.98,197.48 157.19,200.87 157.39,192.92 157.60,210.56 157.80,211.11 158.01,192.58 158.21,204.60 158.42,213.70 158.62,220.86 158.83,210.50 159.03,191.14 159.24,205.78 159.44,201.74 159.65,194.18 159.85,209.52 160.06,186.25 160.26,194.98 160.47,223.20 160.67,212.31 160.88,186.45 161.08,193.59 161.29,192.99 161.49,200.77 161.70,203.07 161.90,215.37 162.11,203.01 162.31,198.82 162.52,204.99 162.72,206.71 162.93,215.84 163.13,189.28 163.34,198.32 163.54,202.15 163.75,206.82 163.95,201.21 164.16,224.93 164.36,206.38 164.57,212.51 164.77,220.32 164.98,203.67 165.18,200.92 165.39,201.22 165.59,200.50 165.80,200.52 166.00,218.36 166.21,201.55 166.41,197.44 166.62,203.15 166.82,220.32 167.03,203.85 167.23,185.26 167.44,192.51 167.64,193.93 167.85,204.43 168.05,209.13 168.26,195.77 168.46,201.12 168.67,195.86 168.87,189.71 169.08,206.24 169.28,210.65 169.49,206.17 169.69,209.83 169.90,192.32 170.10,203.30 170.31,206.54 170.51,209.84 170.72,211.69 170.92,205.11 171.13,191.07 171.33,209.28 171.54,206.25 171.74,217.11 171.95,192.97 172.15,194.38 172.36,191.74 172.56,185.39 172.77,194.41 172.97,202.01 173.18,205.47 173.38,209.55 173.59,214.39 173.79,190.86 174.00,199.53 174.20,214.54 174.41,209.82 174.61,197.28 174.82,210.28 175.02,194.68 175.23,201.79 175.43,201.06 175.64,200.68 175.84,200.57 176.05,204.08 176.25,205.20 176.46,214.80 176.66,209.94 176.87,205.31 177.07,193.48 177.28,215.46 177.48,211.83 177.69,216.84 177.89,201.39 178.10,194.79 178.30,208.66 178.51,216.03 178.71,201.56 178.92,208.65 179.12,211.54 179.33,211.49 179.53,205.18 179.74,216.18 179.94,204.70 180.15,206.27 180.35,200.91 180.56,197.30 180.76,197.52 180.97,205.70 181.17,220.23 181.38,187.28 181.58,200.54 181.79,208.66 181.99,194.99 182.20,200.24 182.40,195.89 182.61,187.67 182.81,208.62 183.02,186.92 183.22,208.81 183.43,194.05 183.63,194.10 183.84,188.05 184.04,208.53 184.25,189.82 184.45,194.36 184.66,211.43 184.86,201.96 185.07,213.06 185.27,205.91 185.48,182.62 185.68,205.92 185.89,201.39 186.09,196.45 186.30,204.56 186.50,198.50 186.71,200.96 186.91,204.13 187.12,201.95 187.32,200.75 187.53,203.29 187.73,215.82 187.94,209.72 188.14,204.05 188.35,203.39 188.55,198.13 188.76,198.33 188.96,206.02 189.17,187.52 189.37,194.31 189.58,179.49 189.78,199.57 189.99,197.27 190.19,199.43 190.39,204.76 190.60,204.97 190.80,196.65 191.01,206.37 191.21,194.92 191.42,200.57 191.62,190.03 191.83,204.05 192.03,199.86 192.24,208.72 192.44,198.74 192.65,209.15 192.85,201.62 193.06,200.59 193.26,186.37 193.47,185.64 193.67,202.58 193.88,196.36 194.08,191.78 194.29,207.80 194.49,185.06 194.70,189.38 194.90,189.11 195.11,189.50 195.31,212.46 195.52,197.39 195.72,193.09 195.93,197.71 196.13,202.42 196.34,196.35 196.54,188.14 196.75,197.65 196.95,188.53 197.16,205.78 197.36,195.13 197.57,190.95 197.77,191.33 197.98,181.89 198.18,203.44 198.39,198.04 198.59,193.87 198.80,202.56 199.00,197.75 199.21,191.74 199.41,196.12 199.62,191.87 199.82,209.21 200.03,185.91 200.23,209.13 200.44,193.93 200.64,200.89 200.85,206.61 201.05,187.25 201.26,199.93 201.46,199.06 201.67,184.77 201.87,193.64 202.08,199.70 202.28,201.52 202.49,201.17 202.69,198.14 202.90,193.00 203.10,214.49 203.31,194.34 203.51,213.13 203.72,203.57 203.92,189.65 204.13,200.25 204.33,192.69 204.54,206.29 204.74,195.70 204.95,212.64 205.15,204.03 205.36,204.28 205.56,190.46 205.77,194.66 205.97,201.87 206.18,206.13 206.38,180.47 206.59,185.42 206.79,204.75 207.00,207.99 207.20,212.22 207.41,199.95 207.61,192.54 207.82,208.19 208.02,193.16 208.23,209.88 208.43,201.33 208.64,195.72 208.84,203.48 209.05,207.03 209.25,193.51 209.46,186.91 209.66,197.13 209.87,206.59 210.07,197.35 210.28,188.64 210.48,197.73 210.69,194.96 210.89,207.64 211.10,209.56 211.30,191.00 211.51,198.40 211.71,206.16 211.92,191.39 212.12,199.68 212.33,189.57 212.53,186.56 212.74,181.50 212.94,203.59 213.15,194.79 213.35,183.81 213.56,191.73 213.76,204.58 213.97,199.78 214.17,196.93 214.38,196.09 214.58,197.12 214.79,191.45 214.99,194.08 215.20,190.10 215.40,204.02 215.61,202.68 215.81,202.92 216.02,204.81 216.22,187.39 216.43,186.28 216.63,196.52 216.84,186.80 217.04,179.44 217.25,192.61 217.45,194.82 217.66,183.78 217.86,208.87 218.07,195.28 218.27,183.38 218.48,198.35 218.68,198.09 218.89,192.84 219.09,190.86 219.30,185.03 219.50,185.48 219.71,178.78 219.91,195.00 220.12,175.66 220.32,187.00 220.53,197.23 220.73,193.34 220.94,186.38 221.14,200.84 221.35,197.12 221.55,195.03 221.76,194.05 221.96,197.55 222.17,197.29 222.37,197.82 222.58,201.48 222.78,193.00 222.99,190.94 223.19,193.25 223.40,184.42 223.60,205.95 223.81,182.06 224.01,196.09 224.22,208.00 224.42,183.98 224.63,199.07 224.83,194.24 225.04,196.55 225.24,190.55 225.45,187.36 225.65,181.31 225.86,197.47 226.06,180.93 226.27,181.67 226.47,196.11 226.68,197.72 226.88,194.98 227.09,177.80 227.29,187.81 227.50,182.59 227.70,204.66 227.91,180.39 228.11,199.28 228.32,207.22 228.52,186.95 228.73,186.73 228.93,194.51 229.14,179.49 229.34,192.43 229.55,196.67 229.75,192.71 229.96,196.19 230.16,185.94 230.37,197.72 230.57,191.08 230.78,194.90 230.98,198.99 231.19,201.43 231.39,181.03 231.60,201.89 231.80,195.77 232.01,188.10 232.21,189.33 232.42,193.56 232.62,186.58 232.83,191.03 233.03,187.67 233.24,193.99 233.44,187.03 233.65,196.16 233.85,190.41 234.06,181.24 234.26,194.95 234.47,201.87 234.67,200.35 234.88,187.74 235.08,186.91 235.29,185.48 235.49,206.68 235.70,196.59 235.90,183.51 236.11,182.22 236.31,192.38 236.52,195.48 236.72,186.53 236.93,192.62 237.13,183.16 237.34,189.78 237.54,186.75 237.75,195.19 237.95,183.10 238.16,198.32 238.36,184.67 238.57,196.59 238.77,198.75 238.98,196.67 239.18,194.34 239.38,184.21 239.59,179.93 239.79,182.16 240.00,183.62 240.20,199.91 240.41,195.93 240.61,189.08 240.82,193.01 241.02,195.33 241.23,193.60 241.43,190.69 241.64,190.46 241.84,200.28 242.05,201.54 242.25,199.37 242.46,193.76 242.66,199.84 242.87,187.41 243.07,197.08 243.28,198.98 243.48,184.62 243.69,186.62 243.89,197.00 244.10,193.17 244.30,180.91 244.51,194.29 244.71,195.80 244.92,202.38 245.12,181.86 245.33,190.45 245.53,184.95 245.74,180.93 245.94,202.34 246.15,203.17 246.35,191.45 246.56,191.72 246.76,198.58 246.97,180.31 247.17,202.89 247.38,185.83 247.58,184.00 247.79,195.93 247.99,199.39 248.20,200.56 248.40,183.93 248.61,183.41 248.81,195.95 249.02,197.88 249.22,187.08 249.43,179.42 249.63,209.76 249.84,189.00 250.04,178.68 250.25,203.31 250.45,200.24 250.66,196.08 250.86,200.67 251.07,191.63 251.27,204.30 251.48,203.92 251.68,196.59 251.89,197.40 252.09,182.98 252.30,201.22 252.50,183.76 252.71,202.23 252.91,189.10 253.12,185.65 253.32,191.77 253.53,187.32 253.73,186.00 253.94,190.16 254.14,187.60 254.35,192.75 254.55,194.12 254.76,189.38 254.96,197.46 255.17,202.21 255.37,180.70 255.58,188.47 255.78,182.91 255.99,187.15 256.19,187.30 256.40,201.05 256.60,196.82 256.81,188.25 257.01,189.53 257.22,210.22 257.42,191.55 257.63,196.28 257.83,185.02 258.04,193.38 258.24,184.28 258.45,190.79 258.65,186.98 258.86,188.83 259.06,204.76 259.27,188.08 259.47,189.36 259.68,194.27 259.88,183.92 260.09,200.99 260.29,189.31 260.50,193.04 260.70,189.14 260.91,199.60 261.11,189.19 261.32,185.13 261.52,190.93 261.73,189.13 261.93,184.24 262.14,177.90 262.34,181.23 262.55,192.16 262.75,199.36 262.96,189.93 263.16,189.03 263.37,183.29 263.57,192.45 263.78,206.31 263.98,201.70 264.19,185.94 264.39,199.41 264.60,199.72 264.80,184.00 265.01,197.90 265.21,197.10 265.42,200.25 265.62,190.46 265.83,190.28 266.03,180.26 266.24,200.38 266.44,177.27 266.65,196.51 266.85,197.91 267.06,182.08 267.26,201.18 267.47,188.09 267.67,203.89 267.88,199.05 268.08,199.77 268.29,199.58 268.49,190.13 268.70,193.96 268.90,196.40 269.11,197.43 269.31,205.20 269.52,186.35 269.72,200.47 269.93,198.86 270.13,180.92 270.34,197.63 270.54,188.92 270.75,194.96 270.95,191.43 271.16,196.83 271.36,194.52 271.57,189.15 271.77,196.97 271.98,187.89 272.18,186.88 272.39,196.60 272.59,199.25 272.80,197.89 273.00,184.21 273.21,201.85 273.41,197.56 273.62,184.29 273.82,194.66 274.03,191.86 274.23,189.49 274.44,184.96 274.64,203.93 274.85,193.28 275.05,192.85 275.26,202.00 275.46,205.07 275.67,189.34 275.87,187.49 276.08,185.23 276.28,200.19 276.49,202.29 276.69,180.27 276.90,191.46 277.10,208.47 277.31,189.89 277.51,192.35 277.72,194.54 277.92,185.73 278.13,189.02 278.33,191.74 278.54,197.95 278.74,199.36 278.95,184.02 279.15,188.67 279.36,201.07 279.56,191.26 279.77,189.37 279.97,198.56 280.18,192.65 280.38,183.91 280.59,202.65 280.79,199.51 281.00,204.17 281.20,196.68 281.41,205.55 281.61,203.77 281.82,184.42 282.02,199.54 282.23,186.99 282.43,185.64 282.64,194.53 282.84,186.44 283.05,187.69 283.25,193.28 283.46,194.57 283.66,204.56 283.87,190.83 284.07,196.03 284.28,200.63 284.48,190.75 284.69,193.02 284.89,190.75 285.10,197.98 285.30,189.51 285.51,197.80 285.71,184.90 285.92,200.01 286.12,191.25 286.33,202.84 286.53,186.19 286.74,196.34 286.94,179.48 287.15,187.75 287.35,201.09 287.56,198.26 287.76,201.17 287.97,186.65 288.17,200.76 288.38,183.45 288.58,185.90 288.78,191.26 288.99,195.74 289.19,197.63 289.40,192.91 289.60,187.78 289.81,197.25 290.01,187.26 290.22,189.62 290.42,188.10 290.63,203.37 290.83,182.08 291.04,190.96 291.24,190.48 291.45,182.71 291.65,202.52 291.86,200.48 292.06,192.44 292.27,193.71 292.47,200.96 292.68,200.30 292.88,189.52 293.09,186.19 293.29,194.14 293.50,199.41 293.70,183.95 293.91,189.95 294.11,186.62 294.32,181.28 294.52,189.70 294.73,197.81 294.93,191.58 295.14,191.20 295.34,189.53 295.55,181.94 295.75,179.86 295.96,194.05 296.16,193.48 296.37,198.93 296.57,195.56 296.78,198.04 296.98,198.78 297.19,195.85 297.39,197.46 297.60,189.62 297.80,202.67 298.01,194.26 298.21,181.53 298.42,200.16 298.62,187.78 298.83,195.34 299.03,195.84 299.24,187.34 299.44,184.89 299.65,190.22 299.85,189.15 300.06,197.33 300.26,204.26 300.47,185.88 300.67,183.09 300.88,200.47 301.08,190.20 301.29,182.37 301.49,192.34 301.70,192.22 301.90,190.15 302.11,194.10 302.31,202.43 302.52,200.05 302.72,201.56 302.93,187.74 303.13,188.55 303.34,190.19 303.54,193.71 303.75,193.32 303.95,196.06 304.16,187.83 304.36,184.83 304.57,187.99 304.77,188.98 304.98,182.61 305.18,193.88 305.39,193.02 305.59,193.04 305.80,185.13 306.00,193.76 306.21,178.66 306.41,195.23 306.62,197.08 306.82,199.62 307.03,203.52 307.23,197.49 307.44,190.94 307.64,182.20 307.85,188.16 308.05,199.20 308.26,197.13 308.46,200.42 308.67,192.03 308.87,189.52 309.08,198.12 309.28,198.58 309.49,191.40 309.69,180.43 309.90,181.21 310.10,193.95 310.31,198.82 310.51,195.70 310.72,190.68 310.92,187.62 311.13,183.26 311.33,186.66 311.54,188.83 311.74,196.30 311.95,191.54 312.15,187.95 312.36,196.68 312.56,181.85 312.77,192.95 312.97,197.64 313.18,189.02 313.38,188.31 313.59,186.44 313.79,195.95 314.00,196.85 314.20,193.40 314.41,196.53 314.61,196.78 314.82,202.91 315.02,198.47 315.23,185.43 315.43,200.89 315.64,195.42 315.84,186.98 316.05,189.90 316.25,196.77 316.46,200.15 316.66,193.79 316.87,209.53 317.07,205.27 317.28,204.06 317.48,202.60 317.69,192.42 317.89,189.01 318.10,186.51 318.30,186.42 318.51,182.52 318.71,200.78 318.92,204.88 319.12,185.23 319.33,199.27 319.53,184.79 319.74,205.95 319.94,183.64 320.15,197.26 320.35,200.29 320.56,190.94 320.76,203.36 320.97,203.36 321.17,185.78 321.38,202.46 321.58,197.60 321.79,202.32 321.99,198.58 322.20,198.00 322.40,197.44 322.61,187.36 322.81,178.20 323.02,196.28 323.22,195.71 323.43,192.98 323.63,187.67 323.84,194.45 324.04,192.96 324.25,198.62 324.45,188.53 324.66,184.53 324.86,205.83 325.07,186.07 325.27,200.02 325.48,195.59 325.68,193.00 325.89,203.95 326.09,197.87 326.30,210.00 326.50,195.91 326.71,194.48 326.91,189.56 327.12,204.73 327.32,193.14 327.53,199.50 327.73,193.94 327.94,183.91 328.14,200.06 328.35,194.26 328.55,195.69 328.76,203.96 328.96,200.06 329.17,202.74 329.37,207.10 329.58,195.68 329.78,193.45 329.99,211.58 330.19,199.69 330.40,196.01 330.60,195.61 330.81,189.94 331.01,203.55 331.22,181.00 331.42,207.61 331.63,188.55 331.83,208.93 332.04,199.98 332.24,194.92 332.45,185.97 332.65,196.68 332.86,199.19 333.06,184.80 333.27,197.86 333.47,204.66 333.68,192.72 333.88,198.78 334.09,194.58 334.29,193.19 334.50,189.03 334.70,192.97 334.91,204.41 335.11,202.25 335.32,199.37 335.52,194.31 335.73,203.75 335.93,189.71 336.14,194.38 336.34,190.28 336.55,202.66 336.75,195.30 336.96,206.60 337.16,204.92 337.37,202.02 337.57,200.34 337.77,197.83 337.98,195.24 338.18,192.98 338.39,197.82 338.59,199.88 338.80,200.53 339.00,200.96 339.21,213.24 339.41,193.78 339.62,197.98 339.82,204.70 340.03,192.68 340.23,205.18 340.44,210.05 340.64,191.33 340.85,187.77 341.05,194.92 341.26,202.11 341.46,206.35 341.67,194.95 341.87,199.36 342.08,198.53 342.28,194.18 342.49,194.15 342.69,193.73 342.90,200.59 343.10,189.21 343.31,195.24 343.51,210.20 343.72,204.13 343.92,200.47 344.13,205.28 344.33,210.48 344.54,187.95 344.74,185.17 344.95,190.93 345.15,203.18 345.36,185.76 345.56,199.66 345.77,191.18 345.97,205.17 346.18,190.99 346.38,209.71 346.59,201.94 346.79,191.48 347.00,201.72 347.20,207.68 347.41,188.31 347.61,200.06 347.82,195.44 348.02,197.70 348.23,204.33 348.43,201.51 348.64,186.11 348.84,191.04 349.05,199.54 349.25,204.51 349.46,207.04 349.66,181.79 349.87,197.97 350.07,211.92 350.28,195.92 350.48,193.14 350.69,197.55 350.89,189.13 351.10,201.24 351.30,200.69 351.51,188.14 351.71,187.45 351.92,186.64 352.12,185.82 352.33,190.46 352.53,188.92 352.74,188.99 352.94,190.61 353.15,195.38 353.35,195.82 353.56,187.66 353.76,188.62 353.97,190.05 354.17,203.83 354.38,184.67 354.58,196.86 354.79,194.43 354.99,182.12 355.20,190.72 355.40,194.56 355.61,185.60 355.81,198.92 356.02,197.11 356.22,195.62 356.43,197.18 356.63,196.35 356.84,187.47 357.04,193.72 357.25,205.94 357.45,190.63 357.66,207.36 357.86,204.15 358.07,186.32 358.27,187.47 358.48,202.54 358.68,193.44 358.89,198.78 359.09,184.03 359.30,197.40 359.50,195.63 359.71,182.58 359.91,193.56 360.12,196.32 360.32,195.92 360.53,198.02 360.73,199.09 360.94,191.86 361.14,186.19 361.35,196.58 361.55,196.91 361.76,198.43 361.96,185.83 362.17,195.07 362.37,190.47 362.58,202.70 362.78,188.50 362.99,192.54 363.19,195.95 363.40,190.73 363.60,185.87 363.81,191.67 364.01,197.64 364.22,189.91 364.42,175.51 364.63,193.02 364.83,206.25 365.04,188.87 365.24,197.32 365.45,189.01 365.65,185.83 365.86,210.06 366.06,193.35 366.27,183.03 366.47,194.27 366.68,194.90 366.88,188.98 367.09,187.89 367.29,201.87 367.50,203.79 367.70,187.88 367.91,184.48 368.11,201.15 368.32,188.07 368.52,182.41 368.73,186.19 368.93,201.64 369.14,199.24 369.34,188.45 369.55,198.10 369.75,199.04 369.96,192.97 370.16,198.27 370.37,203.60 370.57,196.75 370.78,174.06 370.98,194.68 371.19,199.78 371.39,191.48 371.60,180.52 371.80,193.53 372.01,194.54 372.21,192.10 372.42,195.87 372.62,198.75 372.83,190.36 373.03,201.21 373.24,182.36 373.44,192.22 373.65,195.75 373.85,197.92 374.06,190.19 374.26,194.27 374.47,199.00 374.67,195.30 374.88,184.53 375.08,193.04 375.29,188.06 375.49,190.91 375.70,190.40 375.90,199.07 376.11,187.10 376.31,180.60 376.52,189.11 376.72,191.44 376.93,188.87 377.13,190.47 377.34,188.75 377.54,190.16 377.75,191.65 377.95,194.74 378.16,183.18 378.36,186.75 378.57,182.80 378.77,187.40 378.98,181.66 379.18,186.72 379.39,196.96 379.59,194.53 379.80,187.16 380.00,193.23 380.21,193.83 380.41,199.40 380.62,188.63 380.82,180.26 381.03,197.13 381.23,184.51 381.44,192.85 381.64,192.27 381.85,174.62 382.05,187.18 382.26,177.80 382.46,192.80 382.67,194.20 382.87,201.88 383.08,198.24 383.28,198.74 383.49,190.50 383.69,180.66 383.90,189.58 384.10,200.86 384.31,198.29 384.51,195.19 384.72,187.71 384.92,191.28 385.13,198.14 385.33,190.07 385.54,186.79 385.74,200.15 385.95,191.12 386.15,195.25 386.36,194.42 386.56,184.32 386.77,197.22 386.97,189.32 387.17,185.81 387.38,184.71 387.58,195.04 387.79,184.69 387.99,182.39 388.20,190.37 388.40,185.10 388.61,175.36 388.81,183.24 389.02,170.10 389.22,191.41 389.43,176.01 389.63,177.32 389.84,188.02 390.04,199.86 390.25,181.03 390.45,177.98 390.66,189.78 390.86,184.94 391.07,173.88 391.27,178.51 391.48,180.18 391.68,194.53 391.89,187.02 392.09,189.55 392.30,184.66 392.50,192.89 392.71,196.70 392.91,192.30 393.12,169.81 393.32,167.43 393.53,176.78 393.73,172.71 393.94,177.87 394.14,178.66 394.35,182.39 394.55,183.30 394.76,191.08 394.96,191.40 395.17,184.71 395.37,175.40 395.58,199.14 395.78,181.30 395.99,190.49 396.19,178.50 396.40,184.10 396.60,172.00 396.81,193.33 397.01,188.68 397.22,185.10 397.42,190.79 397.63,180.85 397.83,186.59 398.04,181.43 398.24,188.79 398.45,193.83 398.65,173.51 398.86,185.28 399.06,188.51 399.27,178.92 399.47,188.95 399.68,193.72 399.88,179.63 400.09,181.59 400.29,179.42 400.50,186.05 400.70,175.61 400.91,195.84 401.11,193.24 401.32,176.51 401.52,193.78 401.73,183.92 401.93,187.78 402.14,179.95 402.34,179.10 402.55,193.43 402.75,183.01 402.96,194.75 403.16,182.97 403.37,185.14 403.57,183.75 403.78,183.14 403.98,192.94 404.19,183.04 404.39,178.39 404.60,184.07 404.80,182.57 405.01,182.92 405.21,185.52 405.42,188.45 405.62,180.31 405.83,199.02 406.03,173.43 406.24,192.90 406.44,182.31 406.65,191.47 406.85,185.51 407.06,178.29 407.26,177.49 407.47,173.55 407.67,184.71 407.88,182.58 408.08,187.36 408.29,194.83 408.49,196.51 408.70,174.62 408.90,185.09 409.11,193.36 409.31,188.03 409.52,194.44 409.72,183.93 409.93,184.71 410.13,173.01 410.34,189.95 410.54,194.88 410.75,176.12 410.95,194.51 411.16,185.36 411.36,181.54 411.57,187.71 411.77,180.52 411.98,187.80 412.18,190.28 412.39,177.41 412.59,184.79 412.80,189.49 413.00,194.78 413.21,185.04 413.41,186.64 413.62,186.16 413.82,191.23 414.03,188.23 414.23,191.95 414.44,196.49 414.64,179.90 414.85,187.84 415.05,176.05 415.26,173.21 415.46,183.57 415.67,187.94 415.87,181.32 416.08,176.91 416.28,189.71 416.49,196.19 416.69,184.18 416.90,197.43 417.10,180.48 417.31,184.79 417.51,172.98 417.72,182.42 417.92,199.93 418.13,173.70 418.33,178.38 418.54,183.49 418.74,186.85 418.95,189.10 419.15,184.57 419.36,196.87 419.56,195.85 419.77,185.56 419.97,191.43 420.18,189.36 420.38,187.38 420.59,187.00 420.79,181.92 421.00,193.93 421.20,183.67 421.41,189.39 421.61,186.78 421.82,193.41 422.02,196.36 422.23,190.40 422.43,198.42 422.64,187.94 422.84,188.98 423.05,187.36 423.25,183.20 423.46,185.17 423.66,180.31 423.87,189.95 424.07,197.40 424.28,178.47 424.48,185.54 424.69,188.94 424.89,190.16 425.10,184.61 425.30,192.55 425.51,193.54 425.71,183.84 425.92,184.20 426.12,182.11 426.33,193.05 426.53,196.27 426.74,188.66 426.94,195.78 427.15,181.46 427.35,188.27 427.56,196.21 427.76,185.95 427.97,192.91 428.17,192.43 428.38,190.86 428.58,176.14 428.79,186.09 428.99,188.61 429.20,187.57 429.40,189.17 429.61,180.65 429.81,184.87 430.02,183.19 430.22,189.58 430.43,197.47 430.63,195.82 430.84,185.07 431.04,195.78 431.25,189.85 431.45,192.52 431.66,191.22 431.86,190.73 432.07,194.39 432.27,177.28 432.48,189.81 432.68,184.95 432.89,193.39 433.09,192.97 433.30,197.70 433.50,180.92 433.71,173.96 433.91,191.46 434.12,181.40 434.32,190.64 434.53,196.65 434.73,182.91 434.94,187.72 435.14,193.03 435.35,194.54 435.55,187.47 435.76,199.33 435.96,180.84 436.16,192.73 436.37,181.77 436.57,199.33 436.78,189.99 436.98,188.89 437.19,201.79 437.39,190.72 437.60,192.06 437.80,193.61 438.01,177.37 438.21,185.39 438.42,184.68 438.62,187.97 438.83,191.05 439.03,193.70 439.24,186.57 439.44,190.68 439.65,201.05 439.85,178.19 440.06,183.93 440.26,193.66 440.47,187.85 440.67,185.99 440.88,178.14 441.08,184.65 441.29,189.66 441.49,198.08 441.70,193.12 441.90,185.68 442.11,188.60 442.31,181.44 442.52,195.33 442.72,183.08 442.93,182.21 443.13,190.51 443.34,191.27 443.54,183.87 443.75,195.08 443.95,187.08 444.16,183.83 444.36,195.38 444.57,181.52 444.77,189.94 444.98,190.02 445.18,180.68 445.39,197.65 445.59,186.94 445.80,183.89 446.00,199.01 446.21,193.14 446.41,179.29 446.62,198.49 446.82,196.44 447.03,199.83 447.23,181.59 447.44,196.95 447.64,199.42 447.85,199.12 448.05,192.83 448.26,187.17 448.46,191.73 448.67,180.15 448.87,189.43 449.08,198.35 449.28,177.38 449.49,182.09 449.69,190.81 449.90,188.20 450.10,188.46 450.31,185.76 450.51,177.13 450.72,183.89 450.92,196.91 451.13,189.55 451.33,196.45 451.54,190.52 451.74,177.97 451.95,179.87 452.15,193.42 452.36,153.70 452.56,162.41 452.77,169.34 452.97,174.51 453.18,183.23 453.38,188.33 453.59,189.95 453.79,183.94 454.00,182.72 454.20,200.14 454.41,187.83 454.61,175.66 454.82,190.38 455.02,183.34 455.23,185.72 455.43,192.16 455.64,187.03 455.84,192.93 456.05,178.97 456.25,189.69 456.46,185.74 456.66,184.86 456.87,182.69 457.07,192.43 457.28,180.21 457.48,178.87 457.69,179.89 457.89,191.51 458.10,180.94 458.30,176.75 458.51,172.05 458.71,180.12 458.92,190.28 459.12,193.13 459.33,184.74 459.53,187.19 459.74,182.59 459.94,196.24 460.15,180.15 460.35,190.29 460.56,189.22 460.76,180.65 460.97,191.18 461.17,193.04 461.38,195.56 461.58,184.37 461.79,185.12 461.99,195.55 462.20,189.02 462.40,181.80 462.61,182.09 462.81,183.95 463.02,193.60 463.22,177.23 463.43,188.32 463.63,175.17 463.84,173.51 464.04,183.11 464.25,179.81 464.45,185.80 464.66,183.07 464.86,186.14 465.07,183.71 465.27,188.08 465.48,185.02 465.68,186.53 465.89,179.92 466.09,182.23 466.30,191.86 466.50,188.73 466.71,187.04 466.91,187.79 467.12,182.77 467.32,195.93 467.53,196.93 467.73,182.72 467.94,190.11 468.14,196.69 468.35,184.15 468.55,184.18 468.76,178.53 468.96,185.69 469.17,196.88 469.37,183.54 469.58,185.63 469.78,177.09 469.99,190.78 470.19,193.15 470.40,192.57 470.60,198.40 470.81,184.90 471.01,184.51 471.22,198.69 471.42,190.38 471.63,186.81 471.83,185.46 472.04,180.46 472.24,191.08 472.45,190.87 472.65,185.03 472.86,200.20 473.06,178.20 473.27,183.43 473.47,196.75 473.68,193.33 473.88,182.82 474.09,194.52 474.29,184.79 474.50,191.21 474.70,183.63 474.91,185.51 475.11,187.68 475.32,199.06 475.52,189.82 475.73,202.44 475.93,180.82 476.14,195.80 476.34,194.15 476.55,193.38 476.75,180.37 476.96,207.21 477.16,203.96 477.37,205.88 477.57,208.17 477.78,199.52 477.98,196.17 478.19,197.77 478.39,199.40 478.60,188.60 478.80,188.09 479.01,205.58 479.21,193.90 479.42,205.41 479.62,201.03 479.83,188.97 480.03,196.11 480.24,207.93 480.44,194.77 480.65,200.53 480.85,197.44 481.06,192.71 481.26,203.76 481.47,193.02 481.67,197.91 481.88,203.69 482.08,193.79 482.29,200.31 482.49,200.83 482.70,190.23 482.90,203.63 483.11,196.43 483.31,194.44 483.52,189.90 483.72,186.44 483.93,185.59 484.13,187.72 484.34,203.37 484.54,196.82 484.75,191.18 484.95,193.24 485.15,185.21 485.36,192.71 485.56,197.70 485.77,191.12 485.97,201.93 486.18,179.91 486.38,190.31 486.59,203.44 486.79,197.90 487.00,206.63 487.20,198.84 487.41,200.22 487.61,187.87 487.82,188.30 488.02,201.87 488.23,199.85 488.43,199.91 488.64,206.39 488.84,198.86 489.05,183.04 489.25,188.10 489.46,193.39 489.66,200.46 489.87,193.16 490.07,183.87 490.28,197.77 490.48,201.98 490.69,189.17 490.89,187.46 491.10,189.78 491.30,207.20 491.51,195.99 491.71,192.48 491.92,186.95 492.12,194.42 492.33,197.07 492.53,190.77 492.74,195.10 492.94,196.91 493.15,197.88 493.35,189.73 493.56,189.79 493.76,188.22 493.97,194.47 494.17,187.70 494.38,190.91 494.58,195.55 494.79,197.36 494.99,181.52 495.20,192.00 495.40,201.24 495.61,202.81 495.81,193.57 496.02,185.49 496.22,188.18 496.43,197.77 496.63,191.79 496.84,201.07 497.04,190.62 497.25,197.53 497.45,192.16 497.66,194.55 497.86,202.15 498.07,182.18 498.27,188.57 498.48,201.96 498.68,184.13 498.89,185.82 499.09,188.24 499.30,193.68 499.50,201.03 499.71,193.96 499.91,189.13 500.12,185.40 500.32,189.86 500.53,203.39 500.73,187.27 500.94,189.67 501.14,183.46 501.35,204.85 501.55,185.56 501.76,186.54 501.96,187.91 502.17,191.96 502.37,179.38 502.58,181.07 502.78,188.43 502.99,186.65 503.19,183.80 503.40,189.15 503.60,193.11 503.81,198.31 504.01,194.42 504.22,184.73 504.42,184.81 504.63,189.68 504.83,179.66 505.04,191.11 505.24,183.87 505.45,183.16 505.65,189.63 505.86,186.64 506.06,190.88 506.27,182.77 506.47,195.36 506.68,184.47 506.88,195.35 507.09,189.31 507.29,186.66 507.50,193.21 507.70,189.04 507.91,187.93 508.11,185.37 508.32,184.43 508.52,182.79 508.73,186.12 508.93,185.36 509.14,197.38 509.34,193.93 509.55,182.11 509.75,191.57 509.96,198.85 510.16,180.34 510.37,190.08 510.57,193.25 510.78,185.16 510.98,195.54 511.19,201.89 511.39,187.41 511.60,175.85 511.80,180.56 512.01,183.21 512.21,190.53 512.42,185.44 512.62,178.98 512.83,180.89 513.03,188.97 513.24,179.15 513.44,176.32 513.65,188.43 513.85,179.26 514.06,194.10 514.26,193.19 514.47,187.69 514.67,188.09 514.88,181.61 515.08,197.17 515.29,190.99 515.49,193.70 515.70,183.43 515.90,196.25 516.11,190.16 516.31,190.83 516.52,191.46 516.72,189.45 516.93,193.55 517.13,191.25 517.34,195.77 517.54,187.73 517.75,196.57 517.95,186.40 518.16,185.19 518.36,187.39 518.57,195.53 518.77,184.04 518.98,191.69 519.18,185.19 519.39,198.70 519.59,196.27 519.80,192.09 520.00,184.38 520.21,195.91 520.41,191.53 520.62,186.07 520.82,190.63 521.03,199.76 521.23,195.56 521.44,196.32 521.64,196.71 521.85,191.61 522.05,193.34 522.26,188.62 522.46,181.91 522.67,185.91 522.87,197.18 523.08,183.64 523.28,192.04 523.49,189.27 523.69,195.90 523.90,183.45 524.10,182.26 524.31,199.49 524.51,198.87 524.72,183.38 524.92,194.91 525.13,187.66 525.33,188.03 525.54,189.62 525.74,186.94 525.95,186.33 526.15,186.19 526.36,186.79 526.56,193.65 526.77,190.65 526.97,193.49 527.18,204.31 527.38,194.66 527.59,198.19 527.79,191.37 528.00,191.77 528.20,203.75 528.41,185.25 528.61,186.95 528.82,187.09 529.02,183.65 529.23,181.25 529.43,188.89 529.64,202.57 529.84,197.15 530.05,196.50 530.25,199.02 530.46,177.61 530.66,189.61 530.87,185.10 531.07,188.19 531.28,185.67 531.48,196.45 531.69,192.67 531.89,197.66 532.10,191.50 532.30,192.08 532.51,195.47 532.71,184.84 532.92,185.91 533.12,186.52 533.33,188.43 533.53,179.95 533.74,183.78 533.94,189.03 534.15,187.19 534.35,190.13"/>
<line x1="43.75" y1="144.00" x2="43.75" y2="240.80" stroke="#0072BD" stroke-width="1.00"/>
<path d="M42.40 240.80V235.90M42.40 144.00V148.90M124.39 240.80V235.90M124.39 144.00V148.90M206.38 240.80V235.90M206.38 144.00V148.90M288.38 240.80V235.90M288.38 144.00V148.90M370.37 240.80V235.90M370.37 144.00V148.90M452.36 240.80V235.90M452.36 144.00V148.90M534.35 240.80V235.90M534.35 144.00V148.90M42.40 240.80H47.30M534.35 240.80H529.45M42.40 216.60H47.30M534.35 216.60H529.45M42.40 192.40H47.30M534.35 192.40H529.45M42.40 168.20H47.30M534.35 168.20H529.45M42.40 144.00H47.30M534.35 144.00H529.45" stroke="#606060" stroke-width="1.20" fill="none"/>
<rect x="42.40" y="144.00" width="491.95" height="96.80" fill="none" stroke="#606060" stroke-width="1.20"/>
<text x="42.40" y="255.10" font-size="11.0" text-anchor="middle">0</text>
<text x="124.39" y="255.10" font-size="11.0" text-anchor="middle">200</text>
<text x="206.38" y="255.10" font-size="11.0" text-anchor="middle">400</text>
<text x="288.38" y="255.10" font-size="11.0" text-anchor="middle">600</text>
<text x="370.37" y="255.10" font-size="11.0" text-anchor="middle">800</text>
<text x="452.36" y="255.10" font-size="11.0" text-anchor="middle">1000</text>
<text x="534.35" y="255.10" font-size="11.0" text-anchor="middle">1200</text>
<text x="38.10" y="244.40" font-size="11.0" text-anchor="end">-0.4</text>
<text x="38.10" y="220.20" font-size="11.0" text-anchor="end">-0.2</text>
<text x="38.10" y="196.00" font-size="11.0" text-anchor="end">0</text>
<text x="38.10" y="171.80" font-size="11.0" text-anchor="end">0.2</text>
<text x="38.10" y="147.60" font-size="11.0" text-anchor="end">0.4</text>
<text x="15.40" y="195.10" font-size="12.0" text-anchor="middle" transform="rotate(-90 15.40 195.10)">Offset innovation [ms]</text>
<clipPath id="c2"><rect x="42.40" y="279.20" width="491.95" height="96.80"/></clipPath>
<polyline clip-path="url(#c2)" fill="none" stroke="#0072BD" stroke-width="0.70" stroke-linejoin="round" points="43.83,406.00 44.04,302.30 44.24,300.96 44.45,300.62 44.65,299.99 44.86,299.15 45.06,298.73 45.27,297.21 45.47,296.90 45.68,296.49 45.88,296.78 46.09,295.99 46.29,295.80 46.50,295.43 46.70,294.56 46.91,294.40 47.11,293.82 47.32,293.69 47.52,293.79 47.73,293.83 47.93,292.78 48.14,293.04 48.34,292.97 48.55,292.40 48.75,293.59 48.96,293.04 49.16,291.94 49.37,292.54 49.57,292.33 49.78,292.29 49.98,291.60 50.19,292.47 50.39,292.50 50.60,291.41 50.80,292.26 51.01,291.85 51.21,292.84 51.42,293.34 51.62,293.29 51.83,293.61 52.03,293.45 52.24,293.76 52.44,294.10 52.65,294.04 52.85,293.77 53.06,294.06 53.26,295.13 53.47,295.00 53.67,294.50 53.88,295.02 54.08,295.33 54.29,295.41 54.49,296.17 54.70,296.76 54.90,295.74 55.11,296.33 55.31,297.22 55.52,298.00 55.72,297.34 55.93,297.74 56.13,298.56 56.34,299.21 56.54,299.00 56.75,300.26 56.95,298.35 57.16,298.93 57.36,299.31 57.57,298.74 57.77,301.96 57.98,301.90 58.18,300.37 58.39,302.65 58.59,302.04 58.80,303.35 59.00,303.23 59.21,302.27 59.41,302.49 59.62,306.29 59.82,304.64 60.03,303.57 60.23,306.19 60.44,305.57 60.64,306.15 60.85,307.21 61.05,304.66 61.26,306.91 61.46,308.73 61.67,309.80 61.87,307.67 62.08,305.63 62.28,305.78 62.49,311.28 62.69,311.87 62.90,312.30 63.10,306.73 63.31,313.57 63.51,312.06 63.72,309.32 63.92,313.97 64.13,311.85 64.33,311.32 64.54,308.24 64.74,314.91 64.95,313.98 65.15,313.60 65.36,309.40 65.56,314.66 65.77,313.88 65.97,314.23 66.18,311.79 66.38,318.16 66.59,314.11 66.79,318.87 67.00,314.44 67.20,313.90 67.41,320.13 67.61,313.76 67.82,312.81 68.02,317.82 68.23,313.92 68.43,317.66 68.64,327.09 68.84,326.95 69.05,322.53 69.25,315.72 69.46,319.14 69.66,327.98 69.87,324.98 70.07,318.97 70.28,316.50 70.48,323.94 70.69,324.69 70.89,317.48 71.10,328.72 71.30,325.88 71.51,320.79 71.71,320.58 71.92,322.40 72.12,324.39 72.33,324.60 72.53,332.06 72.74,312.66 72.94,319.69 73.15,316.79 73.35,318.26 73.56,322.71 73.76,332.93 73.97,323.01 74.17,333.78 74.38,322.46 74.58,317.16 74.79,328.46 74.99,324.30 75.20,323.08 75.40,332.04 75.61,317.17 75.81,340.65 76.02,337.13 76.22,331.21 76.43,334.62 76.63,326.83 76.84,330.03 77.04,321.66 77.25,321.82 77.45,325.15 77.66,319.47 77.86,326.75 78.07,338.70 78.27,338.60 78.48,328.64 78.68,334.78 78.89,318.47 79.09,329.79 79.30,328.63 79.50,333.15 79.71,327.03 79.91,342.04 80.12,344.26 80.32,329.70 80.53,331.50 80.73,336.57 80.94,334.30 81.14,328.93 81.35,309.64 81.55,333.74 81.76,344.92 81.96,347.26 82.17,343.93 82.37,343.01 82.58,339.24 82.78,334.71 82.99,335.97 83.19,325.22 83.40,344.24 83.60,322.72 83.81,333.11 84.01,337.21 84.22,331.34 84.42,334.04 84.63,349.65 84.83,323.76 85.04,312.59 85.24,347.44 85.45,344.22 85.65,344.52 85.86,335.94 86.06,345.92 86.27,320.86 86.47,344.67 86.68,327.10 86.88,341.38 87.09,346.22 87.29,324.56 87.50,348.05 87.70,329.51 87.91,350.86 88.11,345.70 88.32,333.36 88.52,329.19 88.73,332.54 88.93,325.03 89.14,320.48 89.34,346.04 89.55,337.55 89.75,340.07 89.96,346.42 90.16,338.49 90.37,325.07 90.57,336.17 90.78,333.21 90.98,341.01 91.19,333.47 91.39,346.83 91.59,340.25 91.80,324.83 92.00,336.24 92.21,343.71 92.41,328.19 92.62,331.43 92.82,353.08 93.03,331.33 93.23,329.26 93.44,344.34 93.64,350.82 93.85,330.61 94.05,339.02 94.26,346.87 94.46,334.04 94.67,343.17 94.87,339.21 95.08,345.09 95.28,335.45 95.49,327.14 95.69,330.68 95.90,338.75 96.10,352.42 96.31,339.97 96.51,327.79 96.72,326.13 96.92,335.84 97.13,346.47 97.33,346.67 97.54,348.65 97.74,340.57 97.95,333.94 98.15,342.05 98.36,332.53 98.56,349.41 98.77,335.10 98.97,345.27 99.18,342.76 99.38,339.16 99.59,348.93 99.79,335.04 100.00,355.26 100.20,345.06 100.41,333.94 100.61,342.23 100.82,348.23 101.02,339.76 101.23,328.70 101.43,334.93 101.64,350.27 101.84,335.18 102.05,344.23 102.25,349.35 102.46,349.74 102.66,336.19 102.87,342.00 103.07,350.18 103.28,342.82 103.48,326.58 103.69,339.68 103.89,334.83 104.10,336.07 104.30,339.12 104.51,335.49 104.71,343.90 104.92,339.38 105.12,352.26 105.33,345.21 105.53,346.04 105.74,343.33 105.94,352.30 106.15,340.89 106.35,342.53 106.56,339.06 106.76,333.65 106.97,339.42 107.17,334.29 107.38,331.45 107.58,325.13 107.79,340.50 107.99,356.93 108.20,339.27 108.40,346.37 108.61,353.82 108.81,338.67 109.02,356.79 109.22,328.78 109.43,334.71 109.63,352.92 109.84,353.82 110.04,332.50 110.25,353.57 110.45,338.70 110.66,339.36 110.86,336.99 111.07,354.88 111.27,325.89 111.48,342.91 111.68,331.90 111.89,338.83 112.09,351.59 112.30,346.01 112.50,353.13 112.71,345.28 112.91,342.92 113.12,363.81 113.32,335.83 113.53,334.59 113.73,337.94 113.94,339.42 114.14,331.92 114.35,350.22 114.55,339.76 114.76,342.26 114.96,350.43 115.17,337.75 115.37,334.88 115.58,348.34 115.78,337.12 115.99,345.30 116.19,348.88 116.40,329.39 116.60,342.96 116.81,331.88 117.01,355.82 117.22,346.81 117.42,346.67 117.63,340.03 117.83,333.48 118.04,346.64 118.24,345.42 118.45,327.32 118.65,341.76 118.86,334.87 119.06,350.60 119.27,328.27 119.47,331.50 119.68,324.87 119.88,347.11 120.09,341.07 120.29,319.15 120.50,345.48 120.70,338.95 120.91,344.66 121.11,331.54 121.32,333.70 121.52,334.90 121.73,330.46 121.93,325.30 122.14,345.83 122.34,332.10 122.55,351.74 122.75,346.79 122.96,332.05 123.16,337.19 123.37,343.82 123.57,339.76 123.78,327.30 123.98,336.96 124.19,343.33 124.39,343.08 124.60,347.89 124.80,354.53 125.01,335.48 125.21,341.33 125.42,341.36 125.62,322.03 125.83,334.66 126.03,330.30 126.24,327.50 126.44,322.38 126.65,344.85 126.85,343.63 127.06,326.09 127.26,343.67 127.47,335.26 127.67,346.11 127.88,336.13 128.08,323.61 128.29,347.79 128.49,340.83 128.70,342.38 128.90,342.43 129.11,344.05 129.31,338.13 129.52,332.23 129.72,332.80 129.93,328.00 130.13,345.17 130.34,327.96 130.54,340.91 130.75,324.99 130.95,346.77 131.16,334.58 131.36,334.00 131.57,342.91 131.77,344.35 131.98,335.74 132.18,343.45 132.39,319.54 132.59,342.43 132.80,333.70 133.00,332.26 133.21,346.44 133.41,342.66 133.62,332.77 133.82,340.76 134.03,348.18 134.23,340.90 134.44,334.82 134.64,322.82 134.85,326.20 135.05,339.97 135.26,327.54 135.46,348.04 135.67,323.07 135.87,336.99 136.08,331.51 136.28,340.36 136.49,328.95 136.69,339.71 136.90,345.92 137.10,332.55 137.31,338.78 137.51,329.98 137.72,328.77 137.92,333.81 138.13,327.60 138.33,328.68 138.54,321.02 138.74,328.65 138.95,333.28 139.15,345.01 139.36,335.13 139.56,334.99 139.77,345.92 139.97,326.04 140.18,329.82 140.38,349.92 140.59,345.31 140.79,352.81 140.99,343.38 141.20,330.78 141.40,344.89 141.61,336.68 141.81,338.14 142.02,335.08 142.22,331.60 142.43,329.83 142.63,328.53 142.84,332.28 143.04,316.95 143.25,335.81 143.45,337.64 143.66,338.89 143.86,333.45 144.07,331.63 144.27,335.58 144.48,329.63 144.68,323.61 144.89,344.65 145.09,326.46 145.30,349.16 145.50,331.98 145.71,348.28 145.91,344.20 146.12,334.52 146.32,352.38 146.53,337.43 146.73,338.17 146.94,332.43 147.14,344.13 147.35,324.48 147.55,330.39 147.76,328.65 147.96,336.68 148.17,325.62 148.37,350.08 148.58,347.15 148.78,326.02 148.99,336.27 149.19,348.00 149.40,343.69 149.60,346.23 149.81,347.33 150.01,339.42 150.22,353.77 150.42,346.21 150.63,329.85 150.83,337.37 151.04,341.00 151.24,332.55 151.45,355.02 151.65,341.40 151.86,342.57 152.06,345.26 152.27,345.11 152.47,341.03 152.68,352.65 152.88,335.88 153.09,329.48 153.29,345.02 153.50,335.13 153.70,342.25 153.91,338.19 154.11,343.76 154.32,325.10 154.52,329.09 154.73,329.45 154.93,350.36 155.14,345.05 155.34,333.61 155.55,327.78 155.75,334.00 155.96,357.80 156.16,350.22 156.37,333.33 156.57,357.30 156.78,335.61 156.98,332.67 157.19,336.07 157.39,328.12 157.60,345.75 157.80,346.30 158.01,327.78 158.21,339.79 158.42,348.89 158.62,356.04 158.83,345.70 159.03,326.34 159.24,340.98 159.44,336.93 159.65,329.38 159.85,344.71 160.06,321.45 160.26,330.18 160.47,358.38 160.67,347.50 160.88,321.65 161.08,328.79 161.29,328.19 161.49,335.96 161.70,338.26 161.90,350.56 162.11,338.21 162.31,334.01 162.52,340.19 162.72,341.90 162.93,351.03 163.13,324.48 163.34,333.52 163.54,337.35 163.75,342.01 163.95,336.41 164.16,360.12 164.36,341.57 164.57,347.70 164.77,355.51 164.98,338.87 165.18,336.11 165.39,336.41 165.59,335.69 165.80,335.72 166.00,353.54 166.21,336.75 166.41,332.64 166.62,338.34 166.82,355.51 167.03,339.04 167.23,320.46 167.44,327.71 167.64,329.13 167.85,339.63 168.05,344.32 168.26,330.97 168.46,336.32 168.67,331.06 168.87,324.91 169.08,341.43 169.28,345.84 169.49,341.37 169.69,345.02 169.90,327.52 170.10,338.50 170.31,341.73 170.51,345.03 170.72,346.88 170.92,340.30 171.13,326.27 171.33,344.47 171.54,341.44 171.74,352.30 171.95,328.17 172.15,329.58 172.36,326.94 172.56,320.59 172.77,329.61 172.97,337.21 173.18,340.66 173.38,344.74 173.59,349.58 173.79,326.06 174.00,334.73 174.20,349.73 174.41,345.01 174.61,332.48 174.82,345.47 175.02,329.88 175.23,336.99 175.43,336.25 175.64,335.88 175.84,335.77 176.05,339.27 176.25,340.40 176.46,349.99 176.66,345.13 176.87,340.50 177.07,328.68 177.28,350.65 177.48,347.02 177.69,352.03 177.89,336.58 178.10,329.99 178.30,343.85 178.51,351.21 178.71,336.76 178.92,343.84 179.12,346.73 179.33,346.68 179.53,340.37 179.74,351.37 179.94,339.89 180.15,341.47 180.35,336.11 180.56,332.50 180.76,332.72 180.97,340.89 181.17,355.42 181.38,322.48 181.58,335.74 181.79,343.85 181.99,330.19 182.20,335.44 182.40,331.09 182.61,322.87 182.81,343.81 183.02,322.12 183.22,344.01 183.43,329.25 183.63,329.30 183.84,323.26 184.04,343.72 184.25,325.02 184.45,329.56 184.66,346.62 184.86,337.15 185.07,348.25 185.27,341.11 185.48,317.83 185.68,341.11 185.89,336.59 186.09,331.65 186.30,339.75 186.50,333.70 186.71,336.16 186.91,339.33 187.12,337.15 187.32,335.94 187.53,338.49 187.73,351.01 187.94,344.91 188.14,339.25 188.35,338.58 188.55,333.32 188.76,333.53 188.96,341.21 189.17,322.73 189.37,329.51 189.58,314.70 189.78,334.77 189.99,332.47 190.19,334.63 190.39,339.95 190.60,340.16 190.80,331.85 191.01,341.56 191.21,330.12 191.42,335.76 191.62,325.23 191.83,339.25 192.03,335.06 192.24,343.91 192.44,333.94 192.65,344.34 192.85,336.81 193.06,335.78 193.26,321.57 193.47,320.84 193.67,337.77 193.88,331.55 194.08,326.98 194.29,342.99 194.49,320.26 194.70,324.58 194.90,324.31 195.11,324.70 195.31,347.65 195.52,332.59 195.72,328.29 195.93,332.91 196.13,337.61 196.34,331.54 196.54,323.34 196.75,332.84 196.95,323.73 197.16,340.97 197.36,330.32 197.57,326.15 197.77,326.53 197.98,317.10 198.18,338.64 198.39,333.24 198.59,329.07 198.80,337.75 199.00,332.95 199.21,326.94 199.41,331.32 199.62,327.07 199.82,344.40 200.03,321.12 200.23,344.32 200.44,329.13 200.64,336.08 200.85,341.81 201.05,322.46 201.26,335.12 201.46,334.25 201.67,319.97 201.87,328.84 202.08,334.90 202.28,336.72 202.49,336.37 202.69,333.33 202.90,328.20 203.10,349.68 203.31,329.54 203.51,348.32 203.72,338.76 203.92,324.85 204.13,335.44 204.33,327.89 204.54,341.49 204.74,330.90 204.95,347.83 205.15,339.23 205.36,339.47 205.56,325.66 205.77,329.86 205.97,337.06 206.18,341.32 206.38,315.68 206.59,320.63 206.79,339.94 207.00,343.18 207.20,347.41 207.41,335.14 207.61,327.74 207.82,343.39 208.02,328.36 208.23,345.07 208.43,336.52 208.64,330.91 208.84,338.67 209.05,342.23 209.25,328.71 209.46,322.11 209.66,332.33 209.87,341.79 210.07,332.55 210.28,323.84 210.48,332.92 210.69,330.15 210.89,342.83 211.10,344.75 211.30,326.20 211.51,333.60 211.71,341.35 211.92,326.59 212.12,334.88 212.33,324.77 212.53,321.76 212.74,316.70 212.94,338.79 213.15,329.99 213.35,319.01 213.56,326.93 213.76,339.77 213.97,334.98 214.17,332.12 214.38,331.28 214.58,332.32 214.79,326.65 214.99,329.28 215.20,325.30 215.40,339.22 215.61,337.88 215.81,338.12 216.02,340.01 216.22,322.60 216.43,321.49 216.63,331.72 216.84,322.00 217.04,314.64 217.25,327.81 217.45,330.02 217.66,318.98 217.86,344.06 218.07,330.48 218.27,318.58 218.48,333.55 218.68,333.28 218.89,328.04 219.09,326.06 219.30,320.23 219.50,320.68 219.71,313.99 219.91,330.20 220.12,310.87 220.32,322.20 220.53,332.43 220.73,328.54 220.94,321.58 221.14,336.03 221.35,332.32 221.55,330.23 221.76,329.25 221.96,332.75 222.17,332.49 222.37,333.02 222.58,336.68 222.78,328.20 222.99,326.14 223.19,328.45 223.40,319.62 223.60,341.14 223.81,317.26 224.01,331.29 224.22,343.19 224.42,319.19 224.63,334.27 224.83,329.44 225.04,331.75 225.24,325.76 225.45,322.56 225.65,316.52 225.86,332.67 226.06,316.14 226.27,316.88 226.47,331.30 226.68,332.92 226.88,330.18 227.09,313.01 227.29,323.01 227.50,317.80 227.70,339.85 227.91,315.60 228.11,334.48 228.32,342.42 228.52,322.15 228.73,321.93 228.93,329.71 229.14,314.70 229.34,327.63 229.55,331.87 229.75,327.91 229.96,331.38 230.16,321.14 230.37,332.92 230.57,326.28 230.78,330.10 230.98,334.19 231.19,336.62 231.39,316.23 231.60,337.09 231.80,330.97 232.01,323.30 232.21,324.53 232.42,328.76 232.62,321.78 232.83,326.23 233.03,322.87 233.24,329.18 233.44,322.23 233.65,331.36 233.85,325.61 234.06,316.45 234.26,330.15 234.47,337.06 234.67,335.54 234.88,322.94 235.08,322.12 235.29,320.68 235.49,341.88 235.70,331.79 235.90,318.71 236.11,317.43 236.31,327.58 236.52,330.68 236.72,321.73 236.93,327.82 237.13,318.36 237.34,324.98 237.54,321.95 237.75,330.38 237.95,318.31 238.16,333.51 238.36,319.88 238.57,331.79 238.77,333.94 238.98,331.87 239.18,329.54 239.38,319.41 239.59,315.14 239.79,317.37 240.00,318.83 240.20,335.11 240.41,331.13 240.61,324.28 240.82,328.21 241.02,330.53 241.23,328.80 241.43,325.89 241.64,325.67 241.84,335.48 242.05,336.74 242.25,334.57 242.46,328.96 242.66,335.04 242.87,322.62 243.07,332.28 243.28,334.18 243.48,319.83 243.69,321.82 243.89,332.19 244.10,328.37 244.30,316.12 244.51,329.49 244.71,331.00 244.92,337.57 245.12,317.07 245.33,325.65 245.53,320.16 245.74,316.14 245.94,337.53 246.15,338.36 246.35,326.66 246.56,326.92 246.76,333.78 246.97,315.51 247.17,338.08 247.38,321.04 247.58,319.20 247.79,331.12 247.99,334.59 248.20,335.75 248.40,319.14 248.61,318.61 248.81,331.15 249.02,333.07 249.22,322.28 249.43,314.63 249.63,344.95 249.84,324.21 250.04,313.89 250.25,338.51 250.45,335.44 250.66,331.28 250.86,335.86 251.07,326.83 251.27,339.50 251.48,339.12 251.68,331.79 251.89,332.59 252.09,318.18 252.30,336.41 252.50,318.96 252.71,337.43 252.91,324.30 253.12,320.85 253.32,326.97 253.53,322.53 253.73,321.20 253.94,325.36 254.14,322.81 254.35,327.95 254.55,329.32 254.76,324.58 254.96,332.66 255.17,337.40 255.37,315.90 255.58,323.67 255.78,318.12 255.99,322.35 256.19,322.50 256.40,336.24 256.60,332.02 256.81,323.45 257.01,324.73 257.22,345.42 257.42,326.75 257.63,331.48 257.83,320.22 258.04,328.58 258.24,319.48 258.45,325.99 258.65,322.19 258.86,324.04 259.06,339.96 259.27,323.29 259.47,324.56 259.68,329.47 259.88,319.13 260.09,336.18 260.29,324.51 260.50,328.23 260.70,324.34 260.91,334.80 261.11,324.40 261.32,320.33 261.52,326.13 261.73,324.34 261.93,319.44 262.14,313.11 262.34,316.44 262.55,327.36 262.75,334.56 262.96,325.13 263.16,324.23 263.37,318.49 263.57,327.65 263.78,341.51 263.98,336.89 264.19,321.15 264.39,334.61 264.60,334.92 264.80,319.20 265.01,333.10 265.21,332.30 265.42,335.45 265.62,325.66 265.83,325.48 266.03,315.47 266.24,335.58 266.44,312.47 266.65,331.70 266.85,333.11 267.06,317.28 267.26,336.38 267.47,323.29 267.67,339.09 267.88,334.24 268.08,334.97 268.29,334.78 268.49,325.33 268.70,329.16 268.90,331.60 269.11,332.62 269.31,340.40 269.52,321.55 269.72,335.67 269.93,334.05 270.13,316.12 270.34,332.83 270.54,324.12 270.75,330.16 270.95,326.63 271.16,332.03 271.36,329.72 271.57,324.35 271.77,332.17 271.98,323.10 272.18,322.09 272.39,331.80 272.59,334.45 272.80,333.09 273.00,319.42 273.21,337.04 273.41,332.76 273.62,319.50 273.82,329.86 274.03,327.06 274.23,324.70 274.44,320.17 274.64,339.12 274.85,328.48 275.05,328.05 275.26,337.20 275.46,340.27 275.67,324.54 275.87,322.69 276.08,320.43 276.28,335.39 276.49,337.49 276.69,315.47 276.90,326.66 277.10,343.66 277.31,325.09 277.51,327.55 277.72,329.74 277.92,320.93 278.13,324.22 278.33,326.94 278.54,333.14 278.74,334.55 278.95,319.22 279.15,323.87 279.36,336.26 279.56,326.46 279.77,324.58 279.97,333.76 280.18,327.85 280.38,319.11 280.59,337.84 280.79,334.70 281.00,339.36 281.20,331.87 281.41,340.75 281.61,338.97 281.82,319.63 282.02,334.74 282.23,322.19 282.43,320.84 282.64,329.73 282.84,321.64 283.05,322.89 283.25,328.48 283.46,329.77 283.66,339.75 283.87,326.03 284.07,331.23 284.28,335.82 284.48,325.95 284.69,328.22 284.89,325.95 285.10,333.18 285.30,324.71 285.51,333.00 285.71,320.10 285.92,335.21 286.12,326.45 286.33,338.03 286.53,321.39 286.74,331.54 286.94,314.69 287.15,322.95 287.35,336.28 287.56,333.46 287.76,336.36 287.97,321.86 288.17,335.95 288.38,318.65 288.58,321.10 288.78,326.46 288.99,330.93 289.19,332.82 289.40,328.11 289.60,322.98 289.81,332.44 290.01,322.46 290.22,324.82 290.42,323.30 290.63,338.57 290.83,317.29 291.04,326.16 291.24,325.68 291.45,317.92 291.65,337.72 291.86,335.68 292.06,327.64 292.27,328.91 292.47,336.15 292.68,335.50 292.88,324.72 293.09,321.40 293.29,329.34 293.50,334.60 293.70,319.16 293.91,325.15 294.11,321.83 294.32,316.48 294.52,324.90 294.73,333.01 294.93,326.78 295.14,326.40 295.34,324.74 295.55,317.14 295.75,315.07 295.96,329.25 296.16,328.68 296.37,334.13 296.57,330.76 296.78,333.23 296.98,333.98 297.19,331.05 297.39,332.66 297.60,324.82 297.80,337.86 298.01,329.46 298.21,316.74 298.42,335.36 298.62,322.99 298.83,330.54 299.03,331.04 299.24,322.55 299.44,320.09 299.65,325.43 299.85,324.35 300.06,332.53 300.26,339.46 300.47,321.08 300.67,318.29 300.88,335.67 301.08,325.40 301.29,317.58 301.49,327.54 301.70,327.42 301.90,325.35 302.11,329.30 302.31,337.62 302.52,335.24 302.72,336.76 302.93,322.94 303.13,323.75 303.34,325.39 303.54,328.91 303.75,328.52 303.95,331.26 304.16,323.03 304.36,320.03 304.57,323.19 304.77,324.18 304.98,317.81 305.18,329.08 305.39,328.22 305.59,328.24 305.80,320.34 306.00,328.96 306.21,313.87 306.41,330.43 306.62,332.28 306.82,334.81 307.03,338.71 307.23,332.69 307.44,326.14 307.64,317.41 307.85,323.36 308.05,334.40 308.26,332.32 308.46,335.61 308.67,327.23 308.87,324.72 309.08,333.32 309.28,333.78 309.49,326.60 309.69,315.63 309.90,316.42 310.10,329.15 310.31,334.01 310.51,330.89 310.72,325.89 310.92,322.82 311.13,318.46 311.33,321.87 311.54,324.03 311.74,331.49 311.95,326.74 312.15,323.15 312.36,331.87 312.56,317.05 312.77,328.15 312.97,332.84 313.18,324.23 313.38,323.52 313.59,321.64 313.79,331.15 314.00,332.05 314.20,328.60 314.41,331.73 314.61,331.98 314.82,338.10 315.02,333.66 315.23,320.63 315.43,336.09 315.64,330.62 315.84,322.18 316.05,325.10 316.25,331.96 316.46,335.34 316.66,328.99 316.87,344.72 317.07,340.47 317.28,339.26 317.48,337.79 317.69,327.62 317.89,324.22 318.10,321.71 318.30,321.62 318.51,317.73 318.71,335.98 318.92,340.07 319.12,320.43 319.33,334.46 319.53,320.00 319.74,341.14 319.94,318.84 320.15,332.45 320.35,335.49 320.56,326.14 320.76,338.55 320.97,338.56 321.17,320.98 321.38,337.66 321.58,332.80 321.79,337.51 321.99,333.78 322.20,333.19 322.40,332.64 322.61,322.56 322.81,313.41 323.02,331.48 323.22,330.91 323.43,328.18 323.63,322.87 323.84,329.65 324.04,328.16 324.25,333.82 324.45,323.73 324.66,319.73 324.86,341.02 325.07,321.27 325.27,335.21 325.48,330.79 325.68,328.20 325.89,339.14 326.09,333.07 326.30,345.19 326.50,331.11 326.71,329.68 326.91,324.76 327.12,339.92 327.32,328.34 327.53,334.70 327.73,329.14 327.94,319.11 328.14,335.26 328.35,329.46 328.55,330.89 328.76,339.16 328.96,335.25 329.17,337.94 329.37,342.29 329.58,330.88 329.78,328.65 329.99,346.77 330.19,334.89 330.40,331.21 330.60,330.80 330.81,325.14 331.01,338.75 331.22,316.21 331.42,342.80 331.63,323.75 331.83,344.12 332.04,335.18 332.24,330.12 332.45,321.17 332.65,331.88 332.86,334.39 333.06,320.00 333.27,333.06 333.47,339.86 333.68,327.92 333.88,333.98 334.09,329.78 334.29,328.38 334.50,324.23 334.70,328.17 334.91,339.60 335.11,337.45 335.32,334.56 335.52,329.51 335.73,338.94 335.93,324.91 336.14,329.58 336.34,325.48 336.55,337.86 336.75,330.50 336.96,341.80 337.16,340.11 337.37,337.21 337.57,335.53 337.77,333.02 337.98,330.44 338.18,328.18 338.39,333.02 338.59,335.08 338.80,335.73 339.00,336.16 339.21,348.43 339.41,328.98 339.62,333.17 339.82,339.89 340.03,327.88 340.23,340.37 340.44,345.24 340.64,326.53 340.85,322.97 341.05,330.12 341.26,337.31 341.46,341.55 341.67,330.14 341.87,334.56 342.08,333.73 342.28,329.38 342.49,329.35 342.69,328.93 342.90,335.79 343.10,324.42 343.31,330.44 343.51,345.39 343.72,339.33 343.92,335.66 344.13,340.47 344.33,345.67 344.54,323.16 344.74,320.37 344.95,326.13 345.15,338.38 345.36,320.97 345.56,334.86 345.77,326.38 345.97,340.36 346.18,326.19 346.38,344.90 346.59,337.13 346.79,326.68 347.00,336.92 347.20,342.88 347.41,323.52 347.61,335.26 347.82,330.64 348.02,332.90 348.23,339.52 348.43,336.70 348.64,321.31 348.84,326.24 349.05,334.74 349.25,339.71 349.46,342.23 349.66,316.99 349.87,333.17 350.07,347.11 350.28,331.12 350.48,328.34 350.69,332.75 350.89,324.33 351.10,336.44 351.30,335.89 351.51,323.34 351.71,322.65 351.92,321.84 352.12,321.03 352.33,325.66 352.53,324.12 352.74,324.19 352.94,325.82 353.15,330.58 353.35,331.02 353.56,322.86 353.76,323.83 353.97,325.25 354.17,339.02 354.38,319.88 354.58,332.06 354.79,329.63 354.99,317.33 355.20,325.92 355.40,329.76 355.61,320.81 355.81,334.11 356.02,332.31 356.22,330.82 356.43,332.38 356.63,331.55 356.84,322.67 357.04,328.92 357.25,341.14 357.45,325.83 357.66,342.55 357.86,339.34 358.07,321.52 358.27,322.67 358.48,337.74 358.68,328.64 358.89,333.98 359.09,319.24 359.30,332.60 359.50,330.83 359.71,317.79 359.91,328.76 360.12,331.52 360.32,331.12 360.53,333.22 360.73,334.29 360.94,327.06 361.14,321.40 361.35,331.77 361.55,332.11 361.76,333.63 361.96,321.03 362.17,330.27 362.37,325.67 362.58,337.89 362.78,323.70 362.99,327.74 363.19,331.15 363.40,325.93 363.60,321.07 363.81,326.87 364.01,332.83 364.22,325.11 364.42,310.72 364.63,328.22 364.83,341.44 365.04,324.07 365.24,332.51 365.45,324.21 365.65,321.03 365.86,345.25 366.06,328.55 366.27,318.23 366.47,329.47 366.68,330.10 366.88,324.19 367.09,323.09 367.29,337.06 367.50,338.99 367.70,323.09 367.91,319.68 368.11,336.34 368.32,323.28 368.52,317.61 368.73,321.40 368.93,336.83 369.14,334.44 369.34,323.66 369.55,333.29 369.75,334.23 369.96,328.17 370.16,333.46 370.37,338.79 370.57,331.94 370.78,309.27 370.98,329.88 371.19,334.98 371.39,326.68 371.60,315.73 371.80,328.73 372.01,329.74 372.21,327.30 372.42,331.07 372.62,333.94 372.83,325.56 373.03,336.41 373.24,317.57 373.44,327.42 373.65,330.95 373.85,333.12 374.06,325.39 374.26,329.47 374.47,334.20 374.67,330.50 374.88,319.73 375.08,328.24 375.29,323.26 375.49,326.11 375.70,325.60 375.90,334.27 376.11,322.30 376.31,315.81 376.52,324.31 376.72,326.64 376.93,324.07 377.13,325.67 377.34,323.96 377.54,325.36 377.75,326.85 377.95,329.94 378.16,318.39 378.36,321.95 378.57,318.01 378.77,322.60 378.98,316.87 379.18,321.93 379.39,332.16 379.59,329.73 379.80,322.36 380.00,328.43 380.21,329.03 380.41,334.60 380.62,323.83 380.82,315.47 381.03,332.32 381.23,319.71 381.44,328.05 381.64,327.47 381.85,309.83 382.05,322.38 382.26,313.01 382.46,328.00 382.67,329.40 382.87,337.08 383.08,333.44 383.28,333.93 383.49,325.70 383.69,315.86 383.90,324.78 384.10,336.05 384.31,333.49 384.51,330.39 384.72,322.92 384.92,326.49 385.13,333.34 385.33,325.27 385.54,321.99 385.74,335.34 385.95,326.32 386.15,330.45 386.36,329.62 386.56,319.52 386.77,332.42 386.97,324.52 387.17,321.01 387.38,319.92 387.58,330.24 387.79,319.89 387.99,317.59 388.20,325.58 388.40,320.30 388.61,310.57 388.81,318.44 389.02,305.31 389.22,326.61 389.43,311.22 389.63,312.53 389.84,323.22 390.04,335.06 390.25,316.24 390.45,313.19 390.66,324.98 390.86,320.14 391.07,309.09 391.27,313.72 391.48,315.39 391.68,329.73 391.89,322.22 392.09,324.75 392.30,319.86 392.50,328.09 392.71,331.90 392.91,327.50 393.12,305.02 393.32,302.65 393.53,311.99 393.73,307.92 393.94,313.07 394.14,313.87 394.35,317.60 394.55,318.51 394.76,326.28 394.96,326.60 395.17,319.92 395.37,310.61 395.58,334.34 395.78,316.51 395.99,325.69 396.19,313.71 396.40,319.30 396.60,307.21 396.81,328.53 397.01,323.88 397.22,320.31 397.42,325.99 397.63,316.06 397.83,321.80 398.04,316.63 398.24,323.99 398.45,329.03 398.65,308.72 398.86,320.49 399.06,323.72 399.27,314.12 399.47,324.15 399.68,328.92 399.88,314.84 400.09,316.80 400.29,314.62 400.50,321.26 400.70,310.82 400.91,331.04 401.11,328.44 401.32,311.71 401.52,328.98 401.73,319.12 401.93,322.99 402.14,315.16 402.34,314.31 402.55,328.63 402.75,318.22 402.96,329.95 403.16,318.18 403.37,320.35 403.57,318.96 403.78,318.35 403.98,328.14 404.19,318.25 404.39,313.60 404.60,319.27 404.80,317.78 405.01,318.12 405.21,320.73 405.42,323.65 405.62,315.52 405.83,334.22 406.03,308.64 406.24,328.10 406.44,317.51 406.65,326.67 406.85,320.72 407.06,313.49 407.26,312.69 407.47,308.76 407.67,319.92 407.88,317.79 408.08,322.57 408.29,330.03 408.49,331.71 408.70,309.83 408.90,320.29 409.11,328.56 409.31,323.23 409.52,329.64 409.72,319.13 409.93,319.91 410.13,308.22 410.34,325.15 410.54,330.08 410.75,311.33 410.95,329.71 411.16,320.57 411.36,316.74 411.57,322.92 411.77,315.73 411.98,323.00 412.18,325.48 412.39,312.62 412.59,319.99 412.80,324.69 413.00,329.97 413.21,320.25 413.41,321.85 413.62,321.36 413.82,326.43 414.03,323.44 414.23,327.15 414.44,331.69 414.64,315.11 414.85,323.04 415.05,311.26 415.26,308.42 415.46,318.77 415.67,323.14 415.87,316.52 416.08,312.11 416.28,324.91 416.49,331.39 416.69,319.39 416.90,332.63 417.10,315.69 417.31,320.00 417.51,308.19 417.72,317.63 417.92,335.12 418.13,308.91 418.33,313.58 418.54,318.70 418.74,322.05 418.95,324.30 419.15,319.78 419.36,332.06 419.56,331.05 419.77,320.77 419.97,326.63 420.18,324.56 420.38,322.58 420.59,322.20 420.79,317.13 421.00,329.13 421.20,318.88 421.41,324.59 421.61,321.99 421.82,328.61 422.02,331.56 422.23,325.60 422.43,333.62 422.64,323.14 422.84,324.18 423.05,322.56 423.25,318.40 423.46,320.38 423.66,315.52 423.87,325.15 424.07,332.59 424.28,313.68 424.48,320.74 424.69,324.14 424.89,325.36 425.10,319.82 425.30,327.75 425.51,328.74 425.71,319.04 425.92,319.40 426.12,317.32 426.33,328.25 426.53,331.47 426.74,323.87 426.94,330.98 427.15,316.66 427.35,323.47 427.56,331.41 427.76,321.15 427.97,328.11 428.17,327.63 428.38,326.06 428.58,311.35 428.79,321.29 428.99,323.81 429.20,322.77 429.40,324.38 429.61,315.85 429.81,320.07 430.02,318.39 430.22,324.79 430.43,332.67 430.63,331.02 430.84,320.27 431.04,330.98 431.25,325.05 431.45,327.72 431.66,326.42 431.86,325.93 432.07,329.58 432.27,312.49 432.48,325.01 432.68,320.15 432.89,328.59 433.09,328.17 433.30,332.89 433.50,316.13 433.71,309.17 433.91,326.66 434.12,316.61 434.32,325.84 434.53,331.85 434.73,318.11 434.94,322.93 435.14,328.23 435.35,329.74 435.55,322.67 435.76,334.53 435.96,316.05 436.16,327.93 436.37,316.98 436.57,334.52 436.78,325.19 436.98,324.09 437.19,336.99 437.39,325.92 437.60,327.26 437.80,328.81 438.01,312.58 438.21,320.60 438.42,319.88 438.62,323.17 438.83,326.26 439.03,328.90 439.24,321.77 439.44,325.88 439.65,336.24 439.85,313.39 440.06,319.13 440.26,328.86 440.47,323.05 440.67,321.20 440.88,313.35 441.08,319.85 441.29,324.86 441.49,333.28 441.70,328.32 441.90,320.88 442.11,323.80 442.31,316.65 442.52,330.53 442.72,318.28 442.93,317.42 443.13,325.71 443.34,326.47 443.54,319.08 443.75,330.28 443.95,322.28 444.16,319.04 444.36,330.57 444.57,316.72 444.77,325.14 444.98,325.22 445.18,315.88 445.39,332.85 445.59,322.14 445.80,319.09 446.00,334.20 446.21,328.34 446.41,314.50 446.62,333.69 446.82,331.64 447.03,335.02 447.23,316.79 447.44,332.15 447.64,334.61 447.85,334.32 448.05,328.03 448.26,322.37 448.46,326.93 448.67,315.36 448.87,324.63 449.08,333.55 449.28,312.59 449.49,317.30 449.69,326.01 449.90,323.40 450.10,323.66 450.31,320.97 450.51,312.34 450.72,319.09 450.92,332.10 451.13,324.75 451.33,331.65 451.54,325.72 451.74,313.18 451.95,315.08 452.15,328.62 452.36,288.80 452.56,297.54 452.77,304.49 452.97,309.67 453.18,318.43 453.38,323.53 453.59,325.15 453.79,319.14 454.00,317.93 454.20,335.34 454.41,323.04 454.61,310.87 454.82,325.58 455.02,318.54 455.23,320.92 455.43,327.36 455.64,322.23 455.84,328.13 456.05,314.18 456.25,324.89 456.46,320.94 456.66,320.06 456.87,317.90 457.07,327.63 457.28,315.41 457.48,314.07 457.69,315.10 457.89,326.71 458.10,316.15 458.30,311.96 458.51,307.26 458.71,315.32 458.92,325.48 459.12,328.33 459.33,319.94 459.53,322.39 459.74,317.80 459.94,331.44 460.15,315.35 460.35,325.49 460.56,324.43 460.76,315.86 460.97,326.39 461.17,328.24 461.38,330.76 461.58,319.57 461.79,320.32 461.99,330.75 462.20,324.22 462.40,317.00 462.61,317.29 462.81,319.15 463.02,328.79 463.22,312.44 463.43,323.52 463.63,310.38 463.84,308.72 464.04,318.31 464.25,315.02 464.45,321.00 464.66,318.27 464.86,321.34 465.07,318.91 465.27,323.28 465.48,320.22 465.68,321.73 465.89,315.13 466.09,317.44 466.30,327.06 466.50,323.93 466.71,322.25 466.91,323.00 467.12,317.98 467.32,331.13 467.53,332.12 467.73,317.93 467.94,325.31 468.14,331.89 468.35,319.35 468.55,319.38 468.76,313.74 468.96,320.89 469.17,332.08 469.37,318.74 469.58,320.83 469.78,312.30 469.99,325.98 470.19,328.35 470.40,327.77 470.60,333.59 470.81,320.10 471.01,319.72 471.22,333.89 471.42,325.58 471.63,322.01 471.83,320.66 472.04,315.67 472.24,326.28 472.45,326.07 472.65,320.23 472.86,335.40 473.06,313.41 473.27,318.63 473.47,331.95 473.68,328.53 473.88,318.03 474.09,329.72 474.29,319.99 474.50,326.41 474.70,318.83 474.91,320.71 475.11,322.88 475.32,334.26 475.52,325.02 475.73,337.63 475.93,316.02 476.14,331.00 476.34,329.35 476.55,328.58 476.75,315.57 476.96,342.40 477.16,339.16 477.37,341.07 477.57,343.37 477.78,334.72 477.98,331.37 478.19,332.97 478.39,334.60 478.60,323.81 478.80,323.29 479.01,340.78 479.21,329.10 479.42,340.60 479.62,336.23 479.83,324.17 480.03,331.30 480.24,343.13 480.44,329.97 480.65,335.73 480.85,332.63 481.06,327.91 481.26,338.95 481.47,328.22 481.67,333.11 481.88,338.88 482.08,328.99 482.29,335.50 482.49,336.02 482.70,325.43 482.90,338.82 483.11,331.62 483.31,329.63 483.52,325.10 483.72,321.64 483.93,320.80 484.13,322.92 484.34,338.57 484.54,332.02 484.75,326.38 484.95,328.44 485.15,320.41 485.36,327.91 485.56,332.90 485.77,326.32 485.97,337.12 486.18,315.12 486.38,325.51 486.59,338.63 486.79,333.10 487.00,341.82 487.20,334.04 487.41,335.42 487.61,323.08 487.82,323.51 488.02,337.07 488.23,335.04 488.43,335.11 488.64,341.58 488.84,334.05 489.05,318.24 489.25,323.31 489.46,328.59 489.66,335.66 489.87,328.36 490.07,319.07 490.28,332.97 490.48,337.18 490.69,324.38 490.89,322.66 491.10,324.98 491.30,342.39 491.51,331.18 491.71,327.68 491.92,322.16 492.12,329.62 492.33,332.27 492.53,325.97 492.74,330.30 492.94,332.11 493.15,333.08 493.35,324.93 493.56,324.99 493.76,323.42 493.97,329.67 494.17,322.91 494.38,326.11 494.58,330.75 494.79,332.55 494.99,316.73 495.20,327.20 495.40,336.43 495.61,338.00 495.81,328.77 496.02,320.70 496.22,323.38 496.43,332.97 496.63,326.99 496.84,336.27 497.04,325.82 497.25,332.73 497.45,327.36 497.66,329.75 497.86,337.35 498.07,317.38 498.27,323.77 498.48,337.15 498.68,319.34 498.89,321.02 499.09,323.45 499.30,328.88 499.50,336.22 499.71,329.16 499.91,324.34 500.12,320.60 500.32,325.06 500.53,338.59 500.73,322.48 500.94,324.87 501.14,318.67 501.35,340.04 501.55,320.76 501.76,321.75 501.96,323.11 502.17,327.16 502.37,314.59 502.58,316.28 502.78,323.63 502.99,321.85 503.19,319.00 503.40,324.35 503.60,328.31 503.81,333.51 504.01,329.62 504.22,319.93 504.42,320.02 504.63,324.88 504.83,314.87 505.04,326.31 505.24,319.08 505.45,318.37 505.65,324.84 505.86,321.85 506.06,326.08 506.27,317.98 506.47,330.56 506.68,319.68 506.88,330.55 507.09,324.51 507.29,321.86 507.50,328.41 507.70,324.24 507.91,323.13 508.11,320.57 508.32,319.64 508.52,317.99 508.73,321.32 508.93,320.56 509.14,332.58 509.34,329.13 509.55,317.32 509.75,326.77 509.96,334.04 510.16,315.54 510.37,325.28 510.57,328.45 510.78,320.36 510.98,330.74 511.19,337.09 511.39,322.61 511.60,311.06 511.80,315.76 512.01,318.41 512.21,325.73 512.42,320.64 512.62,314.18 512.83,316.09 513.03,324.17 513.24,314.36 513.44,311.53 513.65,323.64 513.85,314.46 514.06,329.30 514.26,328.39 514.47,322.90 514.67,323.29 514.88,316.81 515.08,332.37 515.29,326.19 515.49,328.90 515.70,318.64 515.90,331.45 516.11,325.36 516.31,326.03 516.52,326.66 516.72,324.65 516.93,328.75 517.13,326.45 517.34,330.97 517.54,322.93 517.75,331.76 517.95,321.60 518.16,320.40 518.36,322.59 518.57,330.73 518.77,319.24 518.98,326.89 519.18,320.39 519.39,333.90 519.59,331.46 519.80,327.29 520.00,319.58 520.21,331.11 520.41,326.73 520.62,321.27 520.82,325.83 521.03,334.95 521.23,330.76 521.44,331.52 521.64,331.91 521.85,326.81 522.05,328.54 522.26,323.82 522.46,317.12 522.67,321.11 522.87,332.38 523.08,318.85 523.28,327.24 523.49,324.47 523.69,331.09 523.90,318.66 524.10,317.47 524.31,334.69 524.51,334.07 524.72,318.59 524.92,330.11 525.13,322.86 525.33,323.23 525.54,324.82 525.74,322.14 525.95,321.54 526.15,321.39 526.36,322.00 526.56,328.85 526.77,325.85 526.97,328.68 527.18,339.51 527.38,329.86 527.59,333.39 527.79,326.57 528.00,326.97 528.20,338.94 528.41,320.45 528.61,322.16 528.82,322.30 529.02,318.85 529.23,316.46 529.43,324.09 529.64,337.76 529.84,332.35 530.05,331.70 530.25,334.22 530.46,312.81 530.66,324.82 530.87,320.30 531.07,323.39 531.28,320.88 531.48,331.65 531.69,327.87 531.89,332.86 532.10,326.70 532.30,327.28 532.51,330.67 532.71,320.04 532.92,321.12 533.12,321.72 533.33,323.63 533.53,315.15 533.74,318.98 533.94,324.23 534.15,322.39 534.35,325.33"/>
<polyline clip-path="url(#c2)" fill="none" stroke="#0072BD" stroke-width="1.30" stroke-linejoin="round" points="44.04,302.30 44.24,300.96 44.45,300.62 44.65,299.99 44.86,299.15 45.06,298.73 45.27,297.21 45.47,296.90 45.68,296.49 45.88,296.78 46.09,295.99 46.29,295.80 46.50,295.43 46.70,294.56 46.91,294.40 47.11,293.82 47.32,293.69 47.52,293.79 47.73,293.83 47.93,292.78 48.14,293.04 48.34,292.97 48.55,292.40 48.75,293.59 48.96,293.04 49.16,291.94 49.37,292.54 49.57,292.33 49.78,292.29 49.98,291.60 50.19,292.47 50.39,292.50 50.60,291.41 50.80,292.26 51.01,291.85 51.21,292.84 51.42,293.34 51.62,293.29 51.83,293.61 52.03,293.45 52.24,293.76 52.44,294.10 52.65,294.04 52.85,293.77 53.06,294.06 53.26,295.13 53.47,295.00 53.67,294.50 53.88,295.02 54.08,295.33 54.29,295.41 54.49,296.17 54.70,296.76 54.90,295.74 55.11,296.33 55.31,297.22 55.52,298.00 55.72,297.34 55.93,297.74 56.13,298.56 56.34,299.21 56.54,299.00 56.75,300.26 56.95,298.35 57.16,298.93 57.36,299.31 57.57,298.74 57.77,301.96 57.98,301.90 58.18,300.37 58.39,302.65 58.59,302.04 58.80,303.35 59.00,303.23 59.21,302.27 59.41,302.49 59.62,306.29 59.82,304.64 60.03,303.57 60.23,306.19 60.44,305.57 60.64,306.15 60.85,307.21"/>
<line x1="43.65" y1="303.20" x2="43.65" y2="376.00" stroke="#0072BD" stroke-width="0.95"/>
<path d="M42.40 376.00V371.10M42.40 279.20V284.10M124.39 376.00V371.10M124.39 279.20V284.10M206.38 376.00V371.10M206.38 279.20V284.10M288.38 376.00V371.10M288.38 279.20V284.10M370.37 376.00V371.10M370.37 279.20V284.10M452.36 376.00V371.10M452.36 279.20V284.10M534.35 376.00V371.10M534.35 279.20V284.10M42.40 359.87H47.30M534.35 359.87H529.45M42.40 327.60H47.30M534.35 327.60H529.45M42.40 295.33H47.30M534.35 295.33H529.45" stroke="#606060" stroke-width="1.20" fill="none"/>
<rect x="42.40" y="279.20" width="491.95" height="96.80" fill="none" stroke="#606060" stroke-width="1.20"/>
<text x="42.40" y="390.30" font-size="11.0" text-anchor="middle">0</text>
<text x="124.39" y="390.30" font-size="11.0" text-anchor="middle">200</text>
<text x="206.38" y="390.30" font-size="11.0" text-anchor="middle">400</text>
<text x="288.38" y="390.30" font-size="11.0" text-anchor="middle">600</text>
<text x="370.37" y="390.30" font-size="11.0" text-anchor="middle">800</text>
<text x="452.36" y="390.30" font-size="11.0" text-anchor="middle">1000</text>
<text x="534.35" y="390.30" font-size="11.0" text-anchor="middle">1200</text>
<text x="38.10" y="363.47" font-size="11.0" text-anchor="end">-2</text>
<text x="38.10" y="331.20" font-size="11.0" text-anchor="end">0</text>
<text x="38.10" y="298.93" font-size="11.0" text-anchor="end">2</text>
<text x="23.30" y="330.25" font-size="12.0" text-anchor="middle" transform="rotate(-90 23.30 330.25)">Skew Innovation [us/s]</text>
<text x="288.38" y="405.60" font-size="12.0" text-anchor="middle">Time [s]</text>
</svg></body></html>
